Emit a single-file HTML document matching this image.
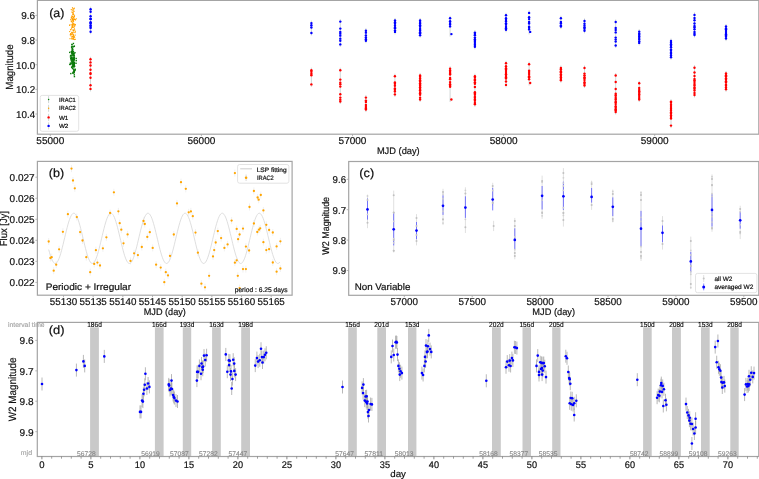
<!DOCTYPE html>
<html><head><meta charset="utf-8"><style>
html,body{margin:0;padding:0;background:#fff;width:759px;height:479px;overflow:hidden}
svg{display:block;will-change:transform}
text{font-family:"Liberation Sans",sans-serif;text-rendering:geometricPrecision}
</style></head><body>
<svg width="759" height="479" viewBox="0 0 759 479">
<rect width="759" height="479" fill="#fff"/>
<rect x="73.45" y="10.86" width="1.1" height="1.1" fill="#ffa000"/>
<rect x="73.88" y="7.67" width="1.1" height="1.1" fill="#ffa000"/>
<rect x="72.05" y="13.56" width="1.1" height="1.1" fill="#ffa000"/>
<rect x="72.69" y="13.19" width="1.1" height="1.1" fill="#ffa000"/>
<rect x="71.9" y="7.23" width="1.1" height="1.1" fill="#ffa000"/>
<rect x="72.55" y="7.9" width="1.1" height="1.1" fill="#ffa000"/>
<rect x="72.66" y="12.14" width="1.1" height="1.1" fill="#ffa000"/>
<rect x="71.76" y="9.59" width="1.1" height="1.1" fill="#ffa000"/>
<rect x="73.96" y="14.72" width="1.1" height="1.1" fill="#ffa000"/>
<rect x="71.8" y="11.79" width="1.1" height="1.1" fill="#ffa000"/>
<rect x="74.81" y="19.15" width="1.1" height="1.1" fill="#ffa000"/>
<rect x="73.09" y="10.43" width="1.1" height="1.1" fill="#ffa000"/>
<rect x="73.17" y="8.58" width="1.1" height="1.1" fill="#ffa000"/>
<rect x="73.1" y="17.11" width="1.1" height="1.1" fill="#ffa000"/>
<rect x="70.73" y="9.05" width="1.1" height="1.1" fill="#ffa000"/>
<rect x="71.44" y="11.48" width="1.1" height="1.1" fill="#ffa000"/>
<rect x="72.77" y="13.71" width="1.1" height="1.1" fill="#ffa000"/>
<rect x="72.53" y="9.37" width="1.1" height="1.1" fill="#ffa000"/>
<rect x="71.34" y="15.39" width="1.1" height="1.1" fill="#ffa000"/>
<rect x="72.85" y="14.19" width="1.1" height="1.1" fill="#ffa000"/>
<rect x="71.64" y="26.19" width="1.1" height="1.1" fill="#ffa000"/>
<rect x="74.55" y="32.02" width="1.1" height="1.1" fill="#ffa000"/>
<rect x="70.93" y="21.24" width="1.1" height="1.1" fill="#ffa000"/>
<rect x="71.63" y="36.19" width="1.1" height="1.1" fill="#ffa000"/>
<rect x="71.49" y="32.74" width="1.1" height="1.1" fill="#ffa000"/>
<rect x="75.75" y="18.25" width="1.1" height="1.1" fill="#ffa000"/>
<rect x="72.38" y="25.36" width="1.1" height="1.1" fill="#ffa000"/>
<rect x="71.6" y="27.04" width="1.1" height="1.1" fill="#ffa000"/>
<rect x="71.26" y="16.38" width="1.1" height="1.1" fill="#ffa000"/>
<rect x="70.42" y="29.03" width="1.1" height="1.1" fill="#ffa000"/>
<rect x="71.57" y="36.2" width="1.1" height="1.1" fill="#ffa000"/>
<rect x="74.2" y="29.54" width="1.1" height="1.1" fill="#ffa000"/>
<rect x="69.95" y="29.19" width="1.1" height="1.1" fill="#ffa000"/>
<rect x="73.03" y="37.84" width="1.1" height="1.1" fill="#ffa000"/>
<rect x="72.11" y="26.69" width="1.1" height="1.1" fill="#ffa000"/>
<rect x="71.96" y="32.08" width="1.1" height="1.1" fill="#ffa000"/>
<rect x="74.76" y="30.79" width="1.1" height="1.1" fill="#ffa000"/>
<rect x="72.25" y="22.19" width="1.1" height="1.1" fill="#ffa000"/>
<rect x="72.21" y="24.59" width="1.1" height="1.1" fill="#ffa000"/>
<rect x="72.11" y="26.39" width="1.1" height="1.1" fill="#ffa000"/>
<rect x="72.69" y="19.43" width="1.1" height="1.1" fill="#ffa000"/>
<rect x="72.65" y="33.66" width="1.1" height="1.1" fill="#ffa000"/>
<rect x="72.37" y="18.52" width="1.1" height="1.1" fill="#ffa000"/>
<rect x="73.64" y="36.1" width="1.1" height="1.1" fill="#ffa000"/>
<rect x="70.79" y="17.36" width="1.1" height="1.1" fill="#ffa000"/>
<rect x="72.87" y="36.39" width="1.1" height="1.1" fill="#ffa000"/>
<rect x="73.04" y="34.87" width="1.1" height="1.1" fill="#ffa000"/>
<rect x="71.56" y="25.29" width="1.1" height="1.1" fill="#ffa000"/>
<rect x="74.79" y="23.95" width="1.1" height="1.1" fill="#ffa000"/>
<rect x="70.18" y="19.03" width="1.1" height="1.1" fill="#ffa000"/>
<rect x="72.46" y="19.63" width="1.1" height="1.1" fill="#ffa000"/>
<rect x="73.29" y="26.94" width="1.1" height="1.1" fill="#ffa000"/>
<rect x="72.34" y="29.41" width="1.1" height="1.1" fill="#ffa000"/>
<rect x="72.47" y="25.38" width="1.1" height="1.1" fill="#ffa000"/>
<rect x="69.41" y="24.2" width="1.1" height="1.1" fill="#ffa000"/>
<rect x="71.05" y="31.81" width="1.1" height="1.1" fill="#ffa000"/>
<rect x="70.91" y="27.67" width="1.1" height="1.1" fill="#ffa000"/>
<rect x="71.04" y="16.73" width="1.1" height="1.1" fill="#ffa000"/>
<rect x="72.85" y="36.77" width="1.1" height="1.1" fill="#ffa000"/>
<rect x="69.75" y="34.36" width="1.1" height="1.1" fill="#ffa000"/>
<rect x="71.86" y="24.75" width="1.1" height="1.1" fill="#ffa000"/>
<rect x="72.71" y="30.48" width="1.1" height="1.1" fill="#ffa000"/>
<rect x="73.16" y="16.93" width="1.1" height="1.1" fill="#ffa000"/>
<rect x="72.72" y="19.3" width="1.1" height="1.1" fill="#ffa000"/>
<rect x="72.38" y="23.51" width="1.1" height="1.1" fill="#ffa000"/>
<rect x="72.36" y="19.03" width="1.1" height="1.1" fill="#ffa000"/>
<rect x="72.16" y="17.85" width="1.1" height="1.1" fill="#ffa000"/>
<rect x="72.57" y="36.17" width="1.1" height="1.1" fill="#ffa000"/>
<rect x="72.94" y="30" width="1.1" height="1.1" fill="#ffa000"/>
<rect x="73.15" y="23.68" width="1.1" height="1.1" fill="#ffa000"/>
<rect x="74.16" y="24.08" width="1.1" height="1.1" fill="#ffa000"/>
<rect x="74.11" y="38.99" width="1.1" height="1.1" fill="#ffa000"/>
<rect x="71.8" y="26.49" width="1.1" height="1.1" fill="#ffa000"/>
<rect x="72.41" y="17.87" width="1.1" height="1.1" fill="#ffa000"/>
<rect x="72.12" y="23.57" width="1.1" height="1.1" fill="#ffa000"/>
<rect x="74.78" y="19.28" width="1.1" height="1.1" fill="#ffa000"/>
<rect x="73.87" y="16" width="1.1" height="1.1" fill="#ffa000"/>
<rect x="71.87" y="18.92" width="1.1" height="1.1" fill="#ffa000"/>
<rect x="73.92" y="28.32" width="1.1" height="1.1" fill="#ffa000"/>
<rect x="72.62" y="38.64" width="1.1" height="1.1" fill="#ffa000"/>
<rect x="72.01" y="35.91" width="1.1" height="1.1" fill="#ffa000"/>
<rect x="71.4" y="24.14" width="1.1" height="1.1" fill="#ffa000"/>
<rect x="72.57" y="19.41" width="1.1" height="1.1" fill="#ffa000"/>
<rect x="70.76" y="33.91" width="1.1" height="1.1" fill="#ffa000"/>
<rect x="72.75" y="23.26" width="1.1" height="1.1" fill="#ffa000"/>
<rect x="74.69" y="38.79" width="1.1" height="1.1" fill="#ffa000"/>
<rect x="73.18" y="35.66" width="1.1" height="1.1" fill="#ffa000"/>
<rect x="70.1" y="32.98" width="1.1" height="1.1" fill="#ffa000"/>
<rect x="71.14" y="20.82" width="1.1" height="1.1" fill="#ffa000"/>
<rect x="72.22" y="16.14" width="1.1" height="1.1" fill="#ffa000"/>
<rect x="72.16" y="16.11" width="1.1" height="1.1" fill="#ffa000"/>
<rect x="73.34" y="31.86" width="1.1" height="1.1" fill="#ffa000"/>
<rect x="69.46" y="38.12" width="1.1" height="1.1" fill="#ffa000"/>
<rect x="73.35" y="38.87" width="1.1" height="1.1" fill="#ffa000"/>
<rect x="71.74" y="38.08" width="1.1" height="1.1" fill="#ffa000"/>
<rect x="73.04" y="20.83" width="1.1" height="1.1" fill="#ffa000"/>
<rect x="72.86" y="20.11" width="1.1" height="1.1" fill="#ffa000"/>
<rect x="74.09" y="36.79" width="1.1" height="1.1" fill="#ffa000"/>
<rect x="70.47" y="35.37" width="1.1" height="1.1" fill="#ffa000"/>
<rect x="72.59" y="34.4" width="1.1" height="1.1" fill="#ffa000"/>
<rect x="70.83" y="17.46" width="1.1" height="1.1" fill="#ffa000"/>
<rect x="69.94" y="33.99" width="1.1" height="1.1" fill="#ffa000"/>
<rect x="71.54" y="33.23" width="1.1" height="1.1" fill="#ffa000"/>
<rect x="72.46" y="34.15" width="1.1" height="1.1" fill="#ffa000"/>
<rect x="73.44" y="23.33" width="1.1" height="1.1" fill="#ffa000"/>
<rect x="69.05" y="24.83" width="1.1" height="1.1" fill="#ffa000"/>
<rect x="74.32" y="24.96" width="1.1" height="1.1" fill="#ffa000"/>
<rect x="71.66" y="19.48" width="1.1" height="1.1" fill="#ffa000"/>
<rect x="73.99" y="18.46" width="1.1" height="1.1" fill="#ffa000"/>
<rect x="74.64" y="34.56" width="1.1" height="1.1" fill="#ffa000"/>
<rect x="74.03" y="18.91" width="1.1" height="1.1" fill="#ffa000"/>
<rect x="69.12" y="31.03" width="1.1" height="1.1" fill="#ffa000"/>
<rect x="71.69" y="23.75" width="1.1" height="1.1" fill="#ffa000"/>
<rect x="72.14" y="15.79" width="1.1" height="1.1" fill="#ffa000"/>
<rect x="71.41" y="38.46" width="1.1" height="1.1" fill="#ffa000"/>
<rect x="71.07" y="37.58" width="1.1" height="1.1" fill="#ffa000"/>
<rect x="74.03" y="25.73" width="1.1" height="1.1" fill="#ffa000"/>
<rect x="70.6" y="20.45" width="1.1" height="1.1" fill="#ffa000"/>
<rect x="72.09" y="21.42" width="1.1" height="1.1" fill="#ffa000"/>
<rect x="73.28" y="29.35" width="1.1" height="1.1" fill="#ffa000"/>
<rect x="73.6" y="58.87" width="1.4" height="1.4" fill="#0b7a0b"/>
<rect x="74.31" y="69.74" width="1.4" height="1.4" fill="#0b7a0b"/>
<rect x="73.4" y="54.6" width="1.4" height="1.4" fill="#0b7a0b"/>
<rect x="70.95" y="46.17" width="1.4" height="1.4" fill="#0b7a0b"/>
<rect x="73.64" y="45.56" width="1.4" height="1.4" fill="#0b7a0b"/>
<rect x="72.28" y="50.68" width="1.4" height="1.4" fill="#0b7a0b"/>
<rect x="72.26" y="57.95" width="1.4" height="1.4" fill="#0b7a0b"/>
<rect x="72.59" y="55.16" width="1.4" height="1.4" fill="#0b7a0b"/>
<rect x="72.36" y="71.84" width="1.4" height="1.4" fill="#0b7a0b"/>
<rect x="73.55" y="63.02" width="1.4" height="1.4" fill="#0b7a0b"/>
<rect x="70.73" y="57.91" width="1.4" height="1.4" fill="#0b7a0b"/>
<rect x="73.64" y="55.41" width="1.4" height="1.4" fill="#0b7a0b"/>
<rect x="71.55" y="47.78" width="1.4" height="1.4" fill="#0b7a0b"/>
<rect x="73.29" y="66.35" width="1.4" height="1.4" fill="#0b7a0b"/>
<rect x="73.31" y="59.35" width="1.4" height="1.4" fill="#0b7a0b"/>
<rect x="70.83" y="60.46" width="1.4" height="1.4" fill="#0b7a0b"/>
<rect x="71.5" y="48.35" width="1.4" height="1.4" fill="#0b7a0b"/>
<rect x="71.59" y="65.76" width="1.4" height="1.4" fill="#0b7a0b"/>
<rect x="71.34" y="52.98" width="1.4" height="1.4" fill="#0b7a0b"/>
<rect x="72.15" y="48.58" width="1.4" height="1.4" fill="#0b7a0b"/>
<rect x="72.76" y="51.04" width="1.4" height="1.4" fill="#0b7a0b"/>
<rect x="72.71" y="42.78" width="1.4" height="1.4" fill="#0b7a0b"/>
<rect x="69.87" y="54.81" width="1.4" height="1.4" fill="#0b7a0b"/>
<rect x="71.96" y="64.37" width="1.4" height="1.4" fill="#0b7a0b"/>
<rect x="71.21" y="43.69" width="1.4" height="1.4" fill="#0b7a0b"/>
<rect x="71.73" y="61.34" width="1.4" height="1.4" fill="#0b7a0b"/>
<rect x="73.23" y="64.76" width="1.4" height="1.4" fill="#0b7a0b"/>
<rect x="72.71" y="63.96" width="1.4" height="1.4" fill="#0b7a0b"/>
<rect x="73.12" y="68.64" width="1.4" height="1.4" fill="#0b7a0b"/>
<rect x="69.7" y="62.46" width="1.4" height="1.4" fill="#0b7a0b"/>
<rect x="73.94" y="65.58" width="1.4" height="1.4" fill="#0b7a0b"/>
<rect x="71.71" y="57.22" width="1.4" height="1.4" fill="#0b7a0b"/>
<rect x="70.1" y="72.88" width="1.4" height="1.4" fill="#0b7a0b"/>
<rect x="75.33" y="62.58" width="1.4" height="1.4" fill="#0b7a0b"/>
<rect x="73.16" y="52.81" width="1.4" height="1.4" fill="#0b7a0b"/>
<rect x="72.15" y="72.5" width="1.4" height="1.4" fill="#0b7a0b"/>
<rect x="73.43" y="63.23" width="1.4" height="1.4" fill="#0b7a0b"/>
<rect x="72.19" y="52.96" width="1.4" height="1.4" fill="#0b7a0b"/>
<rect x="73.33" y="61.35" width="1.4" height="1.4" fill="#0b7a0b"/>
<rect x="72.06" y="59.06" width="1.4" height="1.4" fill="#0b7a0b"/>
<rect x="71.85" y="52.19" width="1.4" height="1.4" fill="#0b7a0b"/>
<rect x="72.43" y="65.54" width="1.4" height="1.4" fill="#0b7a0b"/>
<rect x="71.25" y="53.33" width="1.4" height="1.4" fill="#0b7a0b"/>
<rect x="73.72" y="75.9" width="1.4" height="1.4" fill="#0b7a0b"/>
<rect x="69.06" y="63.76" width="1.4" height="1.4" fill="#0b7a0b"/>
<rect x="72.9" y="63.65" width="1.4" height="1.4" fill="#0b7a0b"/>
<rect x="72.83" y="71.09" width="1.4" height="1.4" fill="#0b7a0b"/>
<rect x="72.95" y="58.83" width="1.4" height="1.4" fill="#0b7a0b"/>
<rect x="73.59" y="45.69" width="1.4" height="1.4" fill="#0b7a0b"/>
<rect x="71.42" y="61.57" width="1.4" height="1.4" fill="#0b7a0b"/>
<rect x="74.56" y="68.58" width="1.4" height="1.4" fill="#0b7a0b"/>
<rect x="71.47" y="49.48" width="1.4" height="1.4" fill="#0b7a0b"/>
<rect x="72.53" y="61.34" width="1.4" height="1.4" fill="#0b7a0b"/>
<rect x="71.08" y="56.51" width="1.4" height="1.4" fill="#0b7a0b"/>
<rect x="73.6" y="74.14" width="1.4" height="1.4" fill="#0b7a0b"/>
<rect x="70.62" y="50.94" width="1.4" height="1.4" fill="#0b7a0b"/>
<rect x="73.54" y="71.22" width="1.4" height="1.4" fill="#0b7a0b"/>
<rect x="73.31" y="72.05" width="1.4" height="1.4" fill="#0b7a0b"/>
<rect x="72.63" y="53.2" width="1.4" height="1.4" fill="#0b7a0b"/>
<rect x="71.36" y="44.18" width="1.4" height="1.4" fill="#0b7a0b"/>
<rect x="72.95" y="58.89" width="1.4" height="1.4" fill="#0b7a0b"/>
<rect x="72.14" y="54.21" width="1.4" height="1.4" fill="#0b7a0b"/>
<rect x="72.77" y="62.51" width="1.4" height="1.4" fill="#0b7a0b"/>
<rect x="72.56" y="63.77" width="1.4" height="1.4" fill="#0b7a0b"/>
<rect x="73.29" y="57.03" width="1.4" height="1.4" fill="#0b7a0b"/>
<rect x="71.27" y="59.65" width="1.4" height="1.4" fill="#0b7a0b"/>
<rect x="72.3" y="54.92" width="1.4" height="1.4" fill="#0b7a0b"/>
<rect x="72.5" y="58.53" width="1.4" height="1.4" fill="#0b7a0b"/>
<rect x="72.52" y="59.3" width="1.4" height="1.4" fill="#0b7a0b"/>
<rect x="70.73" y="58.36" width="1.4" height="1.4" fill="#0b7a0b"/>
<rect x="73.62" y="62.25" width="1.4" height="1.4" fill="#0b7a0b"/>
<rect x="72.06" y="62.34" width="1.4" height="1.4" fill="#0b7a0b"/>
<rect x="71.09" y="62.43" width="1.4" height="1.4" fill="#0b7a0b"/>
<rect x="72.37" y="46.03" width="1.4" height="1.4" fill="#0b7a0b"/>
<rect x="73.22" y="52.79" width="1.4" height="1.4" fill="#0b7a0b"/>
<rect x="69.01" y="51.71" width="1.4" height="1.4" fill="#0b7a0b"/>
<rect x="74.27" y="52.02" width="1.4" height="1.4" fill="#0b7a0b"/>
<rect x="70.59" y="56.63" width="1.4" height="1.4" fill="#0b7a0b"/>
<rect x="72.95" y="53.96" width="1.4" height="1.4" fill="#0b7a0b"/>
<rect x="72.52" y="62.78" width="1.4" height="1.4" fill="#0b7a0b"/>
<rect x="73.18" y="69.69" width="1.4" height="1.4" fill="#0b7a0b"/>
<rect x="73.05" y="59.15" width="1.4" height="1.4" fill="#0b7a0b"/>
<rect x="73.51" y="70.88" width="1.4" height="1.4" fill="#0b7a0b"/>
<rect x="70.95" y="66.47" width="1.4" height="1.4" fill="#0b7a0b"/>
<rect x="73.21" y="58.26" width="1.4" height="1.4" fill="#0b7a0b"/>
<rect x="73.64" y="57.22" width="1.4" height="1.4" fill="#0b7a0b"/>
<rect x="73.44" y="63.47" width="1.4" height="1.4" fill="#0b7a0b"/>
<rect x="75.48" y="57.81" width="1.4" height="1.4" fill="#0b7a0b"/>
<rect x="72.03" y="67.98" width="1.4" height="1.4" fill="#0b7a0b"/>
<rect x="75.54" y="59.93" width="1.4" height="1.4" fill="#0b7a0b"/>
<rect x="73.39" y="56.9" width="1.4" height="1.4" fill="#0b7a0b"/>
<rect x="72.31" y="66.16" width="1.4" height="1.4" fill="#0b7a0b"/>
<rect x="72.53" y="51.13" width="1.4" height="1.4" fill="#0b7a0b"/>
<rect x="73.71" y="61.82" width="1.4" height="1.4" fill="#0b7a0b"/>
<rect x="72.33" y="64.78" width="1.4" height="1.4" fill="#0b7a0b"/>
<rect x="72.97" y="65.28" width="1.4" height="1.4" fill="#0b7a0b"/>
<rect x="72.37" y="60.74" width="1.4" height="1.4" fill="#0b7a0b"/>
<rect x="73.16" y="57.6" width="1.4" height="1.4" fill="#0b7a0b"/>
<rect x="71.51" y="51.92" width="1.4" height="1.4" fill="#0b7a0b"/>
<rect x="70.47" y="59.33" width="1.4" height="1.4" fill="#0b7a0b"/>
<rect x="69.79" y="56.25" width="1.4" height="1.4" fill="#0b7a0b"/>
<rect x="73.01" y="54.52" width="1.4" height="1.4" fill="#0b7a0b"/>
<rect x="72.23" y="63.26" width="1.4" height="1.4" fill="#0b7a0b"/>
<rect x="70.53" y="57.68" width="1.4" height="1.4" fill="#0b7a0b"/>
<rect x="72.94" y="72.09" width="1.4" height="1.4" fill="#0b7a0b"/>
<rect x="71.2" y="66.95" width="1.4" height="1.4" fill="#0b7a0b"/>
<rect x="70.03" y="58" width="1.4" height="1.4" fill="#0b7a0b"/>
<rect x="73.47" y="64.76" width="1.4" height="1.4" fill="#0b7a0b"/>
<rect x="72.23" y="46.02" width="1.4" height="1.4" fill="#0b7a0b"/>
<rect x="70.1" y="63.71" width="1.4" height="1.4" fill="#0b7a0b"/>
<rect x="70.97" y="46.52" width="1.4" height="1.4" fill="#0b7a0b"/>
<rect x="70.55" y="54.9" width="1.4" height="1.4" fill="#0b7a0b"/>
<rect x="72.61" y="59.52" width="1.4" height="1.4" fill="#0b7a0b"/>
<rect x="73.18" y="63.74" width="1.4" height="1.4" fill="#0b7a0b"/>
<rect x="73.76" y="69.82" width="1.4" height="1.4" fill="#0b7a0b"/>
<rect x="71.67" y="50.12" width="1.4" height="1.4" fill="#0b7a0b"/>
<rect x="70.95" y="51.88" width="1.4" height="1.4" fill="#0b7a0b"/>
<rect x="72.31" y="58.73" width="1.4" height="1.4" fill="#0b7a0b"/>
<rect x="70.32" y="62.73" width="1.4" height="1.4" fill="#0b7a0b"/>
<rect x="72.27" y="50.64" width="1.4" height="1.4" fill="#0b7a0b"/>
<line x1="90.6" y1="6.7" x2="90.6" y2="34.2" stroke="#c4cccc" stroke-width="0.8"/>
<circle cx="90.6" cy="9.2" r="1.2" fill="#0000ff"/>
<circle cx="90.6" cy="11.7" r="1.2" fill="#0000ff"/>
<circle cx="90.6" cy="16.3" r="1.2" fill="#0000ff"/>
<circle cx="90.6" cy="19" r="1.2" fill="#0000ff"/>
<circle cx="90.6" cy="19" r="1.2" fill="#0000ff"/>
<circle cx="90.6" cy="22.19" r="1.2" fill="#0000ff"/>
<circle cx="90.6" cy="23.16" r="1.2" fill="#0000ff"/>
<circle cx="90.6" cy="25.18" r="1.2" fill="#0000ff"/>
<circle cx="90.6" cy="26.69" r="1.2" fill="#0000ff"/>
<circle cx="90.6" cy="28" r="1.2" fill="#0000ff"/>
<circle cx="90.6" cy="31.7" r="1.2" fill="#0000ff"/>
<line x1="311.4" y1="20.6" x2="311.4" y2="35.5" stroke="#c4cccc" stroke-width="0.8"/>
<circle cx="311.4" cy="23.1" r="1.2" fill="#0000ff"/>
<circle cx="311.4" cy="25.3" r="1.2" fill="#0000ff"/>
<circle cx="311.4" cy="27.5" r="1.2" fill="#0000ff"/>
<circle cx="311.4" cy="33" r="1.2" fill="#0000ff"/>
<line x1="340.3" y1="19.1" x2="340.3" y2="46.9" stroke="#c4cccc" stroke-width="0.8"/>
<circle cx="340.3" cy="21.6" r="1.2" fill="#0000ff"/>
<circle cx="340.3" cy="28.6" r="1.2" fill="#0000ff"/>
<circle cx="340.3" cy="31.9" r="1.2" fill="#0000ff"/>
<circle cx="340.3" cy="33.64" r="1.2" fill="#0000ff"/>
<circle cx="340.3" cy="35.63" r="1.2" fill="#0000ff"/>
<circle cx="340.3" cy="38.66" r="1.2" fill="#0000ff"/>
<circle cx="340.3" cy="40.7" r="1.2" fill="#0000ff"/>
<circle cx="340.3" cy="44.4" r="1.2" fill="#0000ff"/>
<line x1="365.9" y1="28.3" x2="365.9" y2="43.2" stroke="#c4cccc" stroke-width="0.8"/>
<circle cx="365.9" cy="30.8" r="1.2" fill="#0000ff"/>
<circle cx="365.9" cy="32.64" r="1.2" fill="#0000ff"/>
<circle cx="365.9" cy="35.4" r="1.2" fill="#0000ff"/>
<circle cx="365.9" cy="37.54" r="1.2" fill="#0000ff"/>
<circle cx="365.9" cy="39.19" r="1.2" fill="#0000ff"/>
<circle cx="365.9" cy="40.7" r="1.2" fill="#0000ff"/>
<line x1="395" y1="18" x2="395" y2="34.4" stroke="#c4cccc" stroke-width="0.8"/>
<circle cx="395" cy="20.5" r="1.2" fill="#0000ff"/>
<circle cx="395" cy="22.14" r="1.2" fill="#0000ff"/>
<circle cx="395" cy="23.73" r="1.2" fill="#0000ff"/>
<circle cx="395" cy="25.7" r="1.2" fill="#0000ff"/>
<circle cx="395" cy="27.4" r="1.2" fill="#0000ff"/>
<circle cx="395" cy="28.26" r="1.2" fill="#0000ff"/>
<circle cx="395" cy="30.53" r="1.2" fill="#0000ff"/>
<circle cx="395" cy="31.9" r="1.2" fill="#0000ff"/>
<line x1="420.1" y1="18" x2="420.1" y2="37.7" stroke="#c4cccc" stroke-width="0.8"/>
<circle cx="420.1" cy="20.5" r="1.2" fill="#0000ff"/>
<circle cx="420.1" cy="22.09" r="1.2" fill="#0000ff"/>
<circle cx="420.1" cy="23.53" r="1.2" fill="#0000ff"/>
<circle cx="420.1" cy="25.17" r="1.2" fill="#0000ff"/>
<circle cx="420.1" cy="26.75" r="1.2" fill="#0000ff"/>
<circle cx="420.1" cy="29.03" r="1.2" fill="#0000ff"/>
<circle cx="420.1" cy="30.56" r="1.2" fill="#0000ff"/>
<circle cx="420.1" cy="32.24" r="1.2" fill="#0000ff"/>
<circle cx="420.1" cy="33.35" r="1.2" fill="#0000ff"/>
<circle cx="420.1" cy="35.2" r="1.2" fill="#0000ff"/>
<line x1="450.1" y1="15.8" x2="450.1" y2="36.6" stroke="#c4cccc" stroke-width="0.8"/>
<circle cx="450.1" cy="18.3" r="1.2" fill="#0000ff"/>
<circle cx="450.1" cy="21.14" r="1.2" fill="#0000ff"/>
<circle cx="450.1" cy="23.12" r="1.2" fill="#0000ff"/>
<circle cx="450.1" cy="24.49" r="1.2" fill="#0000ff"/>
<circle cx="450.1" cy="26.4" r="1.2" fill="#0000ff"/>
<circle cx="451.4" cy="34.1" r="1.2" fill="#0000ff"/>
<line x1="474.9" y1="30.1" x2="474.9" y2="49.3" stroke="#c4cccc" stroke-width="0.8"/>
<circle cx="474.9" cy="32.6" r="1.2" fill="#0000ff"/>
<circle cx="474.9" cy="34.03" r="1.2" fill="#0000ff"/>
<circle cx="474.9" cy="35.36" r="1.2" fill="#0000ff"/>
<circle cx="474.9" cy="37.6" r="1.2" fill="#0000ff"/>
<circle cx="474.9" cy="39.25" r="1.2" fill="#0000ff"/>
<circle cx="474.9" cy="40.81" r="1.2" fill="#0000ff"/>
<circle cx="474.9" cy="41.96" r="1.2" fill="#0000ff"/>
<circle cx="474.9" cy="44.04" r="1.2" fill="#0000ff"/>
<circle cx="474.9" cy="45.11" r="1.2" fill="#0000ff"/>
<circle cx="474.9" cy="46.8" r="1.2" fill="#0000ff"/>
<line x1="506" y1="12.8" x2="506" y2="32.3" stroke="#c4cccc" stroke-width="0.8"/>
<circle cx="506" cy="15.3" r="1.2" fill="#0000ff"/>
<circle cx="506" cy="18.2" r="1.2" fill="#0000ff"/>
<circle cx="506" cy="19.96" r="1.2" fill="#0000ff"/>
<circle cx="506" cy="21.54" r="1.2" fill="#0000ff"/>
<circle cx="506" cy="23.36" r="1.2" fill="#0000ff"/>
<circle cx="506" cy="24.87" r="1.2" fill="#0000ff"/>
<circle cx="506" cy="26.89" r="1.2" fill="#0000ff"/>
<circle cx="506" cy="28.29" r="1.2" fill="#0000ff"/>
<circle cx="506" cy="29.8" r="1.2" fill="#0000ff"/>
<line x1="529.1" y1="10.4" x2="529.1" y2="34.4" stroke="#c4cccc" stroke-width="0.8"/>
<circle cx="529.1" cy="12.9" r="1.2" fill="#0000ff"/>
<circle cx="529.1" cy="17.2" r="1.2" fill="#0000ff"/>
<circle cx="529.1" cy="19.08" r="1.2" fill="#0000ff"/>
<circle cx="529.1" cy="21.96" r="1.2" fill="#0000ff"/>
<circle cx="529.1" cy="23.5" r="1.2" fill="#0000ff"/>
<circle cx="529.1" cy="26.69" r="1.2" fill="#0000ff"/>
<circle cx="529.1" cy="27.85" r="1.2" fill="#0000ff"/>
<circle cx="529.1" cy="29.4" r="1.2" fill="#0000ff"/>
<circle cx="530.2" cy="31.9" r="1.2" fill="#0000ff"/>
<line x1="560.9" y1="15.7" x2="560.9" y2="29.1" stroke="#c4cccc" stroke-width="0.8"/>
<circle cx="560.9" cy="18.2" r="1.2" fill="#0000ff"/>
<circle cx="560.9" cy="21.9" r="1.2" fill="#0000ff"/>
<circle cx="560.9" cy="23.3" r="1.2" fill="#0000ff"/>
<circle cx="560.9" cy="25.41" r="1.2" fill="#0000ff"/>
<circle cx="560.9" cy="26.6" r="1.2" fill="#0000ff"/>
<line x1="584.5" y1="18.5" x2="584.5" y2="33.3" stroke="#c4cccc" stroke-width="0.8"/>
<circle cx="584.5" cy="21" r="1.2" fill="#0000ff"/>
<circle cx="584.5" cy="23.8" r="1.2" fill="#0000ff"/>
<circle cx="584.5" cy="25.67" r="1.2" fill="#0000ff"/>
<circle cx="584.5" cy="27.35" r="1.2" fill="#0000ff"/>
<circle cx="584.5" cy="28.78" r="1.2" fill="#0000ff"/>
<circle cx="584.5" cy="30.8" r="1.2" fill="#0000ff"/>
<line x1="615.7" y1="19.5" x2="615.7" y2="48" stroke="#c4cccc" stroke-width="0.8"/>
<circle cx="615.7" cy="22" r="1.2" fill="#0000ff"/>
<circle cx="615.7" cy="28" r="1.2" fill="#0000ff"/>
<circle cx="615.7" cy="29.97" r="1.2" fill="#0000ff"/>
<circle cx="615.7" cy="32.4" r="1.2" fill="#0000ff"/>
<circle cx="615.7" cy="37.6" r="1.2" fill="#0000ff"/>
<circle cx="615.7" cy="39.6" r="1.2" fill="#0000ff"/>
<circle cx="615.7" cy="41.6" r="1.2" fill="#0000ff"/>
<circle cx="615.7" cy="45.5" r="1.2" fill="#0000ff"/>
<line x1="639.2" y1="29.1" x2="639.2" y2="45.4" stroke="#c4cccc" stroke-width="0.8"/>
<circle cx="639.2" cy="31.6" r="1.2" fill="#0000ff"/>
<circle cx="639.2" cy="33.54" r="1.2" fill="#0000ff"/>
<circle cx="639.2" cy="34.79" r="1.2" fill="#0000ff"/>
<circle cx="639.2" cy="36.2" r="1.2" fill="#0000ff"/>
<circle cx="639.2" cy="37.93" r="1.2" fill="#0000ff"/>
<circle cx="639.2" cy="39.46" r="1.2" fill="#0000ff"/>
<circle cx="639.2" cy="41.34" r="1.2" fill="#0000ff"/>
<circle cx="639.2" cy="42.9" r="1.2" fill="#0000ff"/>
<line x1="671" y1="38.5" x2="671" y2="59.7" stroke="#c4cccc" stroke-width="0.8"/>
<circle cx="671" cy="41" r="1.2" fill="#0000ff"/>
<circle cx="671" cy="42.82" r="1.2" fill="#0000ff"/>
<circle cx="671" cy="44.17" r="1.2" fill="#0000ff"/>
<circle cx="671" cy="45.76" r="1.2" fill="#0000ff"/>
<circle cx="671" cy="47.13" r="1.2" fill="#0000ff"/>
<circle cx="671" cy="49.47" r="1.2" fill="#0000ff"/>
<circle cx="671" cy="50.72" r="1.2" fill="#0000ff"/>
<circle cx="671" cy="52.63" r="1.2" fill="#0000ff"/>
<circle cx="671" cy="53.78" r="1.2" fill="#0000ff"/>
<circle cx="671" cy="55.5" r="1.2" fill="#0000ff"/>
<circle cx="671" cy="57.2" r="1.2" fill="#0000ff"/>
<line x1="694.5" y1="12.4" x2="694.5" y2="37.5" stroke="#c4cccc" stroke-width="0.8"/>
<circle cx="694.5" cy="14.9" r="1.2" fill="#0000ff"/>
<circle cx="694.5" cy="18" r="1.2" fill="#0000ff"/>
<circle cx="694.5" cy="20.2" r="1.2" fill="#0000ff"/>
<circle cx="694.5" cy="23.5" r="1.2" fill="#0000ff"/>
<circle cx="694.5" cy="26" r="1.2" fill="#0000ff"/>
<circle cx="694.5" cy="27.13" r="1.2" fill="#0000ff"/>
<circle cx="694.5" cy="29.32" r="1.2" fill="#0000ff"/>
<circle cx="694.5" cy="31.91" r="1.2" fill="#0000ff"/>
<circle cx="694.5" cy="33.76" r="1.2" fill="#0000ff"/>
<circle cx="694.5" cy="35" r="1.2" fill="#0000ff"/>
<line x1="726" y1="24" x2="726" y2="41.1" stroke="#c4cccc" stroke-width="0.8"/>
<circle cx="726" cy="26.5" r="1.2" fill="#0000ff"/>
<circle cx="726" cy="28.39" r="1.2" fill="#0000ff"/>
<circle cx="726" cy="29.21" r="1.2" fill="#0000ff"/>
<circle cx="726" cy="31.06" r="1.2" fill="#0000ff"/>
<circle cx="726" cy="32.9" r="1.2" fill="#0000ff"/>
<circle cx="726" cy="34.18" r="1.2" fill="#0000ff"/>
<circle cx="726" cy="35.54" r="1.2" fill="#0000ff"/>
<circle cx="726" cy="36.72" r="1.2" fill="#0000ff"/>
<circle cx="726" cy="38.6" r="1.2" fill="#0000ff"/>
<line x1="90.5" y1="56.8" x2="90.5" y2="91.4" stroke="#c4cccc" stroke-width="0.8"/>
<circle cx="90.5" cy="59.3" r="1.2" fill="#ff0000"/>
<circle cx="90.5" cy="62.4" r="1.2" fill="#ff0000"/>
<circle cx="90.5" cy="65.5" r="1.2" fill="#ff0000"/>
<circle cx="90.5" cy="69.7" r="1.2" fill="#ff0000"/>
<circle cx="90.5" cy="73.1" r="1.2" fill="#ff0000"/>
<circle cx="90.5" cy="73.9" r="1.2" fill="#ff0000"/>
<circle cx="90.5" cy="77.7" r="1.2" fill="#ff0000"/>
<circle cx="90.5" cy="85.2" r="1.2" fill="#ff0000"/>
<circle cx="90.5" cy="88.9" r="1.2" fill="#ff0000"/>
<line x1="311.4" y1="67.7" x2="311.4" y2="86.9" stroke="#c4cccc" stroke-width="0.8"/>
<circle cx="311.4" cy="70.2" r="1.2" fill="#ff0000"/>
<circle cx="311.4" cy="71.69" r="1.2" fill="#ff0000"/>
<circle cx="311.4" cy="73.72" r="1.2" fill="#ff0000"/>
<circle cx="311.4" cy="75.3" r="1.2" fill="#ff0000"/>
<circle cx="311.4" cy="84.4" r="1.2" fill="#ff0000"/>
<line x1="340.3" y1="67.7" x2="340.3" y2="104" stroke="#c4cccc" stroke-width="0.8"/>
<circle cx="340.3" cy="70.2" r="1.2" fill="#ff0000"/>
<circle cx="340.3" cy="79.6" r="1.2" fill="#ff0000"/>
<circle cx="340.3" cy="82.7" r="1.2" fill="#ff0000"/>
<circle cx="340.3" cy="84.35" r="1.2" fill="#ff0000"/>
<circle cx="340.3" cy="86.6" r="1.2" fill="#ff0000"/>
<circle cx="340.3" cy="94.3" r="1.2" fill="#ff0000"/>
<circle cx="340.3" cy="97.6" r="1.2" fill="#ff0000"/>
<circle cx="340.3" cy="99.66" r="1.2" fill="#ff0000"/>
<circle cx="340.3" cy="101.5" r="1.2" fill="#ff0000"/>
<line x1="365.9" y1="95.1" x2="365.9" y2="112.1" stroke="#c4cccc" stroke-width="0.8"/>
<circle cx="365.9" cy="97.6" r="1.2" fill="#ff0000"/>
<circle cx="365.9" cy="100.62" r="1.2" fill="#ff0000"/>
<circle cx="365.9" cy="102.01" r="1.2" fill="#ff0000"/>
<circle cx="365.9" cy="104.94" r="1.2" fill="#ff0000"/>
<circle cx="365.9" cy="106.97" r="1.2" fill="#ff0000"/>
<circle cx="365.9" cy="108.41" r="1.2" fill="#ff0000"/>
<circle cx="365.9" cy="109.6" r="1.2" fill="#ff0000"/>
<line x1="394.9" y1="73.7" x2="394.9" y2="96.9" stroke="#c4cccc" stroke-width="0.8"/>
<circle cx="394.9" cy="76.2" r="1.2" fill="#ff0000"/>
<circle cx="394.9" cy="82.4" r="1.2" fill="#ff0000"/>
<circle cx="394.9" cy="83.69" r="1.2" fill="#ff0000"/>
<circle cx="394.9" cy="85.77" r="1.2" fill="#ff0000"/>
<circle cx="394.9" cy="88.4" r="1.2" fill="#ff0000"/>
<circle cx="394.9" cy="89.84" r="1.2" fill="#ff0000"/>
<circle cx="394.9" cy="91.53" r="1.2" fill="#ff0000"/>
<circle cx="394.9" cy="94.4" r="1.2" fill="#ff0000"/>
<line x1="420.1" y1="72.9" x2="420.1" y2="102" stroke="#c4cccc" stroke-width="0.8"/>
<circle cx="420.1" cy="75.4" r="1.2" fill="#ff0000"/>
<circle cx="420.1" cy="76.78" r="1.2" fill="#ff0000"/>
<circle cx="420.1" cy="78.56" r="1.2" fill="#ff0000"/>
<circle cx="420.1" cy="80.16" r="1.2" fill="#ff0000"/>
<circle cx="420.1" cy="81.43" r="1.2" fill="#ff0000"/>
<circle cx="420.1" cy="83.31" r="1.2" fill="#ff0000"/>
<circle cx="420.1" cy="84.69" r="1.2" fill="#ff0000"/>
<circle cx="420.1" cy="85.72" r="1.2" fill="#ff0000"/>
<circle cx="420.1" cy="87.29" r="1.2" fill="#ff0000"/>
<circle cx="420.1" cy="88.95" r="1.2" fill="#ff0000"/>
<circle cx="420.1" cy="90.24" r="1.2" fill="#ff0000"/>
<circle cx="420.1" cy="92.1" r="1.2" fill="#ff0000"/>
<circle cx="420.1" cy="93.19" r="1.2" fill="#ff0000"/>
<circle cx="420.1" cy="94.75" r="1.2" fill="#ff0000"/>
<circle cx="420.1" cy="97.64" r="1.2" fill="#ff0000"/>
<circle cx="420.1" cy="99.5" r="1.2" fill="#ff0000"/>
<line x1="450.1" y1="66.3" x2="450.1" y2="102" stroke="#c4cccc" stroke-width="0.8"/>
<circle cx="450.1" cy="68.8" r="1.2" fill="#ff0000"/>
<circle cx="450.1" cy="70.62" r="1.2" fill="#ff0000"/>
<circle cx="450.1" cy="71.99" r="1.2" fill="#ff0000"/>
<circle cx="450.1" cy="73.65" r="1.2" fill="#ff0000"/>
<circle cx="450.1" cy="74.55" r="1.2" fill="#ff0000"/>
<circle cx="450.1" cy="77.93" r="1.2" fill="#ff0000"/>
<circle cx="450.1" cy="79.2" r="1.2" fill="#ff0000"/>
<circle cx="450.1" cy="82.12" r="1.2" fill="#ff0000"/>
<circle cx="450.1" cy="84.16" r="1.2" fill="#ff0000"/>
<circle cx="450.1" cy="85.67" r="1.2" fill="#ff0000"/>
<circle cx="450.1" cy="86.8" r="1.2" fill="#ff0000"/>
<circle cx="451.4" cy="99.5" r="1.2" fill="#ff0000"/>
<line x1="474.9" y1="73.7" x2="474.9" y2="106.8" stroke="#c4cccc" stroke-width="0.8"/>
<circle cx="474.9" cy="76.2" r="1.2" fill="#ff0000"/>
<circle cx="474.9" cy="77.65" r="1.2" fill="#ff0000"/>
<circle cx="474.9" cy="79.58" r="1.2" fill="#ff0000"/>
<circle cx="474.9" cy="80.52" r="1.2" fill="#ff0000"/>
<circle cx="474.9" cy="82.34" r="1.2" fill="#ff0000"/>
<circle cx="474.9" cy="83.76" r="1.2" fill="#ff0000"/>
<circle cx="474.9" cy="87.06" r="1.2" fill="#ff0000"/>
<circle cx="474.9" cy="92.15" r="1.2" fill="#ff0000"/>
<circle cx="474.9" cy="93.57" r="1.2" fill="#ff0000"/>
<circle cx="474.9" cy="94.8" r="1.2" fill="#ff0000"/>
<circle cx="474.9" cy="96.86" r="1.2" fill="#ff0000"/>
<circle cx="474.9" cy="97.87" r="1.2" fill="#ff0000"/>
<circle cx="474.9" cy="99.47" r="1.2" fill="#ff0000"/>
<circle cx="474.9" cy="100.78" r="1.2" fill="#ff0000"/>
<circle cx="474.9" cy="103.07" r="1.2" fill="#ff0000"/>
<circle cx="474.9" cy="104.3" r="1.2" fill="#ff0000"/>
<line x1="506" y1="60.8" x2="506" y2="87.4" stroke="#c4cccc" stroke-width="0.8"/>
<circle cx="506" cy="63.3" r="1.2" fill="#ff0000"/>
<circle cx="506" cy="66.17" r="1.2" fill="#ff0000"/>
<circle cx="506" cy="68.29" r="1.2" fill="#ff0000"/>
<circle cx="506" cy="69.38" r="1.2" fill="#ff0000"/>
<circle cx="506" cy="70.96" r="1.2" fill="#ff0000"/>
<circle cx="506" cy="72.9" r="1.2" fill="#ff0000"/>
<circle cx="506" cy="74.34" r="1.2" fill="#ff0000"/>
<circle cx="506" cy="75.9" r="1.2" fill="#ff0000"/>
<circle cx="506" cy="77.27" r="1.2" fill="#ff0000"/>
<circle cx="506" cy="78.58" r="1.2" fill="#ff0000"/>
<circle cx="506" cy="81.57" r="1.2" fill="#ff0000"/>
<circle cx="506" cy="84.9" r="1.2" fill="#ff0000"/>
<line x1="529.1" y1="61.7" x2="529.1" y2="85.5" stroke="#c4cccc" stroke-width="0.8"/>
<circle cx="529.1" cy="64.2" r="1.2" fill="#ff0000"/>
<circle cx="529.1" cy="70.8" r="1.2" fill="#ff0000"/>
<circle cx="529.1" cy="72.11" r="1.2" fill="#ff0000"/>
<circle cx="529.1" cy="74.02" r="1.2" fill="#ff0000"/>
<circle cx="529.1" cy="76.15" r="1.2" fill="#ff0000"/>
<circle cx="529.1" cy="77.33" r="1.2" fill="#ff0000"/>
<circle cx="529.1" cy="79.2" r="1.2" fill="#ff0000"/>
<circle cx="530.2" cy="83" r="1.2" fill="#ff0000"/>
<line x1="560.9" y1="65.5" x2="560.9" y2="82.7" stroke="#c4cccc" stroke-width="0.8"/>
<circle cx="560.9" cy="68" r="1.2" fill="#ff0000"/>
<circle cx="560.9" cy="69.2" r="1.2" fill="#ff0000"/>
<circle cx="560.9" cy="71.22" r="1.2" fill="#ff0000"/>
<circle cx="560.9" cy="72.36" r="1.2" fill="#ff0000"/>
<circle cx="560.9" cy="74.2" r="1.2" fill="#ff0000"/>
<circle cx="560.9" cy="75.82" r="1.2" fill="#ff0000"/>
<circle cx="560.9" cy="77.28" r="1.2" fill="#ff0000"/>
<circle cx="560.9" cy="78.95" r="1.2" fill="#ff0000"/>
<circle cx="560.9" cy="80.2" r="1.2" fill="#ff0000"/>
<line x1="584.5" y1="65.5" x2="584.5" y2="88" stroke="#c4cccc" stroke-width="0.8"/>
<circle cx="584.5" cy="68" r="1.2" fill="#ff0000"/>
<circle cx="584.5" cy="73.6" r="1.2" fill="#ff0000"/>
<circle cx="584.5" cy="75.35" r="1.2" fill="#ff0000"/>
<circle cx="584.5" cy="77.19" r="1.2" fill="#ff0000"/>
<circle cx="584.5" cy="78.5" r="1.2" fill="#ff0000"/>
<circle cx="584.5" cy="80.12" r="1.2" fill="#ff0000"/>
<circle cx="584.5" cy="82.16" r="1.2" fill="#ff0000"/>
<circle cx="584.5" cy="83.72" r="1.2" fill="#ff0000"/>
<circle cx="584.5" cy="85.5" r="1.2" fill="#ff0000"/>
<line x1="615.7" y1="73" x2="615.7" y2="114.5" stroke="#c4cccc" stroke-width="0.8"/>
<circle cx="615.7" cy="75.5" r="1.2" fill="#ff0000"/>
<circle cx="615.7" cy="82" r="1.2" fill="#ff0000"/>
<circle cx="615.7" cy="89" r="1.2" fill="#ff0000"/>
<circle cx="615.7" cy="93.8" r="1.2" fill="#ff0000"/>
<circle cx="615.7" cy="95.32" r="1.2" fill="#ff0000"/>
<circle cx="615.7" cy="97.08" r="1.2" fill="#ff0000"/>
<circle cx="615.7" cy="98.74" r="1.2" fill="#ff0000"/>
<circle cx="615.7" cy="99.85" r="1.2" fill="#ff0000"/>
<circle cx="615.7" cy="101.66" r="1.2" fill="#ff0000"/>
<circle cx="615.7" cy="102.53" r="1.2" fill="#ff0000"/>
<circle cx="615.7" cy="104.11" r="1.2" fill="#ff0000"/>
<circle cx="615.7" cy="106.31" r="1.2" fill="#ff0000"/>
<circle cx="615.7" cy="107.79" r="1.2" fill="#ff0000"/>
<circle cx="615.7" cy="109.26" r="1.2" fill="#ff0000"/>
<circle cx="615.7" cy="110.29" r="1.2" fill="#ff0000"/>
<circle cx="615.7" cy="112" r="1.2" fill="#ff0000"/>
<line x1="639.2" y1="80.8" x2="639.2" y2="102" stroke="#c4cccc" stroke-width="0.8"/>
<circle cx="639.2" cy="83.3" r="1.2" fill="#ff0000"/>
<circle cx="639.2" cy="88" r="1.2" fill="#ff0000"/>
<circle cx="639.2" cy="90" r="1.2" fill="#ff0000"/>
<circle cx="639.2" cy="91.36" r="1.2" fill="#ff0000"/>
<circle cx="639.2" cy="92.7" r="1.2" fill="#ff0000"/>
<circle cx="639.2" cy="94.28" r="1.2" fill="#ff0000"/>
<circle cx="639.2" cy="96.02" r="1.2" fill="#ff0000"/>
<circle cx="639.2" cy="97.98" r="1.2" fill="#ff0000"/>
<circle cx="639.2" cy="99.5" r="1.2" fill="#ff0000"/>
<line x1="671" y1="99.1" x2="671" y2="128.1" stroke="#c4cccc" stroke-width="0.8"/>
<circle cx="671" cy="101.6" r="1.2" fill="#ff0000"/>
<circle cx="671" cy="102.75" r="1.2" fill="#ff0000"/>
<circle cx="671" cy="104.83" r="1.2" fill="#ff0000"/>
<circle cx="671" cy="106.09" r="1.2" fill="#ff0000"/>
<circle cx="671" cy="108.02" r="1.2" fill="#ff0000"/>
<circle cx="671" cy="108.98" r="1.2" fill="#ff0000"/>
<circle cx="671" cy="110.79" r="1.2" fill="#ff0000"/>
<circle cx="671" cy="112.53" r="1.2" fill="#ff0000"/>
<circle cx="671" cy="113.69" r="1.2" fill="#ff0000"/>
<circle cx="671" cy="115.44" r="1.2" fill="#ff0000"/>
<circle cx="671" cy="116.9" r="1.2" fill="#ff0000"/>
<circle cx="671" cy="118.6" r="1.2" fill="#ff0000"/>
<circle cx="671" cy="125.6" r="1.2" fill="#ff0000"/>
<line x1="694.5" y1="65.2" x2="694.5" y2="97.5" stroke="#c4cccc" stroke-width="0.8"/>
<circle cx="694.5" cy="67.7" r="1.2" fill="#ff0000"/>
<circle cx="694.5" cy="72.5" r="1.2" fill="#ff0000"/>
<circle cx="694.5" cy="76" r="1.2" fill="#ff0000"/>
<circle cx="694.5" cy="79" r="1.2" fill="#ff0000"/>
<circle cx="694.5" cy="80.35" r="1.2" fill="#ff0000"/>
<circle cx="694.5" cy="82" r="1.2" fill="#ff0000"/>
<circle cx="694.5" cy="84" r="1.2" fill="#ff0000"/>
<circle cx="694.5" cy="85.51" r="1.2" fill="#ff0000"/>
<circle cx="694.5" cy="87.54" r="1.2" fill="#ff0000"/>
<circle cx="694.5" cy="88.77" r="1.2" fill="#ff0000"/>
<circle cx="694.5" cy="90.5" r="1.2" fill="#ff0000"/>
<circle cx="694.5" cy="93" r="1.2" fill="#ff0000"/>
<circle cx="694.5" cy="95" r="1.2" fill="#ff0000"/>
<line x1="726" y1="71" x2="726" y2="91.8" stroke="#c4cccc" stroke-width="0.8"/>
<circle cx="726" cy="73.5" r="1.2" fill="#ff0000"/>
<circle cx="726" cy="75.26" r="1.2" fill="#ff0000"/>
<circle cx="726" cy="76.26" r="1.2" fill="#ff0000"/>
<circle cx="726" cy="78.18" r="1.2" fill="#ff0000"/>
<circle cx="726" cy="79.74" r="1.2" fill="#ff0000"/>
<circle cx="726" cy="81.37" r="1.2" fill="#ff0000"/>
<circle cx="726" cy="82.59" r="1.2" fill="#ff0000"/>
<circle cx="726" cy="84.67" r="1.2" fill="#ff0000"/>
<circle cx="726" cy="85.81" r="1.2" fill="#ff0000"/>
<circle cx="726" cy="87.62" r="1.2" fill="#ff0000"/>
<circle cx="726" cy="89.3" r="1.2" fill="#ff0000"/>
<rect x="37.4" y="0.4" width="721.4" height="133.8" fill="none" stroke="#a4a4a4" stroke-width="1.2"/>
<line x1="50.3" y1="134.2" x2="50.3" y2="136.2" stroke="#a4a4a4" stroke-width="0.8"/>
<text x="50.3" y="143.9" font-size="10" text-anchor="middle" fill="#111" stroke="#111" stroke-width="0.2" textLength="27.9" lengthAdjust="spacingAndGlyphs">55000</text>
<line x1="201.4" y1="134.2" x2="201.4" y2="136.2" stroke="#a4a4a4" stroke-width="0.8"/>
<text x="201.4" y="143.9" font-size="10" text-anchor="middle" fill="#111" stroke="#111" stroke-width="0.2" textLength="27.9" lengthAdjust="spacingAndGlyphs">56000</text>
<line x1="352.5" y1="134.2" x2="352.5" y2="136.2" stroke="#a4a4a4" stroke-width="0.8"/>
<text x="352.5" y="143.9" font-size="10" text-anchor="middle" fill="#111" stroke="#111" stroke-width="0.2" textLength="27.9" lengthAdjust="spacingAndGlyphs">57000</text>
<line x1="503.6" y1="134.2" x2="503.6" y2="136.2" stroke="#a4a4a4" stroke-width="0.8"/>
<text x="503.6" y="143.9" font-size="10" text-anchor="middle" fill="#111" stroke="#111" stroke-width="0.2" textLength="27.9" lengthAdjust="spacingAndGlyphs">58000</text>
<line x1="654.7" y1="134.2" x2="654.7" y2="136.2" stroke="#a4a4a4" stroke-width="0.8"/>
<text x="654.7" y="143.9" font-size="10" text-anchor="middle" fill="#111" stroke="#111" stroke-width="0.2" textLength="27.9" lengthAdjust="spacingAndGlyphs">59000</text>
<line x1="35.4" y1="15.4" x2="37.4" y2="15.4" stroke="#a4a4a4" stroke-width="0.8"/>
<text x="35.1" y="19.4" font-size="10" text-anchor="end" fill="#111" stroke="#111" stroke-width="0.2" textLength="13.8" lengthAdjust="spacingAndGlyphs">9.6</text>
<line x1="35.4" y1="40.05" x2="37.4" y2="40.05" stroke="#a4a4a4" stroke-width="0.8"/>
<text x="35.1" y="44.05" font-size="10" text-anchor="end" fill="#111" stroke="#111" stroke-width="0.2" textLength="13.8" lengthAdjust="spacingAndGlyphs">9.8</text>
<line x1="35.4" y1="64.7" x2="37.4" y2="64.7" stroke="#a4a4a4" stroke-width="0.8"/>
<text x="35.1" y="68.7" font-size="10" text-anchor="end" fill="#111" stroke="#111" stroke-width="0.2" textLength="19.1" lengthAdjust="spacingAndGlyphs">10.0</text>
<line x1="35.4" y1="89.35" x2="37.4" y2="89.35" stroke="#a4a4a4" stroke-width="0.8"/>
<text x="35.1" y="93.35" font-size="10" text-anchor="end" fill="#111" stroke="#111" stroke-width="0.2" textLength="19.1" lengthAdjust="spacingAndGlyphs">10.2</text>
<line x1="35.4" y1="114" x2="37.4" y2="114" stroke="#a4a4a4" stroke-width="0.8"/>
<text x="35.1" y="118" font-size="10" text-anchor="end" fill="#111" stroke="#111" stroke-width="0.2" textLength="19.1" lengthAdjust="spacingAndGlyphs">10.4</text>
<text transform="translate(12.8,67) rotate(-90)" font-size="10.3" text-anchor="middle" fill="#111" stroke="#111" stroke-width="0.2" textLength="45.3" lengthAdjust="spacingAndGlyphs">Magnitude</text>
<text x="398.3" y="153.5" font-size="9.5" text-anchor="middle" fill="#111" stroke="#111" stroke-width="0.2" textLength="42.8" lengthAdjust="spacingAndGlyphs">MJD (day)</text>
<text x="49.2" y="16.6" font-size="12" fill="#111" stroke="#111" stroke-width="0.2" textLength="15.2" lengthAdjust="spacingAndGlyphs">(a)</text>
<rect x="40.2" y="95.4" width="38.5" height="35.9" fill="#fff" stroke="#dcdcdc" stroke-width="0.8" rx="2"/>
<line x1="48.6" y1="96.1" x2="48.6" y2="103.1" stroke="#bcc4c4" stroke-width="0.7"/>
<circle cx="48.6" cy="99.6" r="0.75" fill="#0a7d0a"/>
<text x="58.9" y="101.7" font-size="6" fill="#111" stroke="#111" stroke-width="0.2" textLength="16.9" lengthAdjust="spacingAndGlyphs">IRAC1</text>
<line x1="48.6" y1="104.8" x2="48.6" y2="111.8" stroke="#bcc4c4" stroke-width="0.7"/>
<circle cx="48.6" cy="108.3" r="0.75" fill="#ffa500"/>
<text x="58.9" y="110.4" font-size="6" fill="#111" stroke="#111" stroke-width="0.2" textLength="16.9" lengthAdjust="spacingAndGlyphs">IRAC2</text>
<line x1="48.6" y1="113.9" x2="48.6" y2="120.9" stroke="#bcc4c4" stroke-width="0.7"/>
<circle cx="48.6" cy="117.4" r="1.2" fill="#ff0000"/>
<text x="58.9" y="119.5" font-size="6" fill="#111" stroke="#111" stroke-width="0.2" textLength="9.5" lengthAdjust="spacingAndGlyphs">W1</text>
<line x1="48.6" y1="122.4" x2="48.6" y2="129.4" stroke="#bcc4c4" stroke-width="0.7"/>
<circle cx="48.6" cy="125.9" r="1.2" fill="#0000ff"/>
<text x="58.9" y="128" font-size="6" fill="#111" stroke="#111" stroke-width="0.2" textLength="9.5" lengthAdjust="spacingAndGlyphs">W2</text>
<polyline points="48.7,249.55 49.5,252.49 50.3,255.17 51.1,257.54 51.9,259.56 52.7,261.19 53.5,262.4 54.3,263.18 55.1,263.49 55.9,263.35 56.7,262.75 57.5,261.7 58.3,260.22 59.1,258.34 59.9,256.1 60.7,253.53 61.5,250.68 62.3,247.6 63.1,244.36 63.9,241.01 64.7,237.6 65.5,234.22 66.3,230.9 67.1,227.73 67.9,224.74 68.7,222.01 69.5,219.58 70.3,217.49 71.1,215.78 71.9,214.49 72.7,213.64 73.5,213.23 74.3,213.29 75.1,213.81 75.9,214.77 76.7,216.17 77.5,217.98 78.3,220.16 79.1,222.67 79.9,225.47 80.7,228.5 81.5,231.72 82.3,235.06 83.1,238.46 83.9,241.85 84.7,245.18 85.5,248.39 86.3,251.41 87.1,254.2 87.9,256.69 88.7,258.85 89.5,260.63 90.3,262 91.1,262.94 91.9,263.43 92.7,263.46 93.5,263.02 94.3,262.14 95.1,260.82 95.9,259.09 96.7,256.98 97.5,254.53 98.3,251.78 99.1,248.78 99.9,245.59 100.7,242.27 101.5,238.88 102.3,235.48 103.1,232.13 103.9,228.9 104.7,225.84 105.5,223 106.3,220.45 107.1,218.23 107.9,216.38 108.7,214.93 109.5,213.9 110.3,213.33 111.1,213.21 111.9,213.56 112.7,214.36 113.5,215.6 114.3,217.26 115.1,219.3 115.9,221.69 116.7,224.39 117.5,227.34 118.3,230.5 119.1,233.8 119.9,237.18 120.7,240.58 121.5,243.95 122.3,247.21 123.1,250.31 123.9,253.18 124.7,255.79 125.5,258.08 126.3,260.01 127.1,261.53 127.9,262.64 128.7,263.3 129.5,263.5 130.3,263.24 131.1,262.52 131.9,261.37 132.7,259.79 133.5,257.81 134.3,255.48 135.1,252.84 135.9,249.93 136.7,246.81 137.5,243.53 138.3,240.16 139.1,236.75 139.9,233.38 140.7,230.09 141.5,226.96 142.3,224.04 143.1,221.37 143.9,219.02 144.7,217.03 145.5,215.42 146.3,214.24 147.1,213.49 147.9,213.2 148.7,213.38 149.5,214.01 150.3,215.08 151.1,216.59 151.9,218.49 152.7,220.76 153.5,223.34 154.3,226.21 155.1,229.29 155.9,232.55 156.7,235.9 157.5,239.31 158.3,242.69 159.1,246 159.9,249.17 160.7,252.13 161.5,254.85 162.3,257.26 163.1,259.33 163.9,261.01 164.7,262.28 165.5,263.1 166.3,263.48 167.1,263.39 167.9,262.85 168.7,261.85 169.5,260.43 170.3,258.6 171.1,256.4 171.9,253.86 172.7,251.05 173.5,248 174.3,244.77 175.1,241.43 175.9,238.03 176.7,234.64 177.5,231.31 178.3,228.11 179.1,225.1 179.9,222.34 180.7,219.87 181.5,217.73 182.3,215.98 183.1,214.63 183.9,213.72 184.7,213.26 185.5,213.26 186.3,213.72 187.1,214.63 187.9,215.98 188.7,217.73 189.5,219.87 190.3,222.34 191.1,225.1 191.9,228.11 192.7,231.31 193.5,234.64 194.3,238.03 195.1,241.43 195.9,244.77 196.7,248 197.5,251.05 198.3,253.86 199.1,256.4 199.9,258.6 200.7,260.43 201.5,261.85 202.3,262.85 203.1,263.39 203.9,263.48 204.7,263.1 205.5,262.28 206.3,261.01 207.1,259.33 207.9,257.26 208.7,254.85 209.5,252.13 210.3,249.17 211.1,246 211.9,242.69 212.7,239.31 213.5,235.9 214.3,232.55 215.1,229.29 215.9,226.21 216.7,223.34 217.5,220.76 218.3,218.49 219.1,216.59 219.9,215.08 220.7,214.01 221.5,213.38 222.3,213.2 223.1,213.49 223.9,214.24 224.7,215.42 225.5,217.03 226.3,219.02 227.1,221.37 227.9,224.04 228.7,226.96 229.5,230.09 230.3,233.38 231.1,236.75 231.9,240.16 232.7,243.53 233.5,246.81 234.3,249.93 235.1,252.84 235.9,255.48 236.7,257.81 237.5,259.79 238.3,261.37 239.1,262.52 239.9,263.24 240.7,263.5 241.5,263.3 242.3,262.64 243.1,261.53 243.9,260.01 244.7,258.08 245.5,255.79 246.3,253.18 247.1,250.31 247.9,247.21 248.7,243.95 249.5,240.58 250.3,237.18 251.1,233.8 251.9,230.5 252.7,227.34 253.5,224.39 254.3,221.69 255.1,219.3 255.9,217.26 256.7,215.6 257.5,214.36 258.3,213.56 259.1,213.21 259.9,213.33 260.7,213.9 261.5,214.93 262.3,216.38 263.1,218.23 263.9,220.45 264.7,223 265.5,225.84 266.3,228.9 267.1,232.13 267.9,235.48 268.7,238.88 269.5,242.27 270.3,245.59 271.1,248.78 271.9,251.78 272.7,254.53 273.5,256.98 274.3,259.09 275.1,260.82 275.9,262.14 276.7,263.02 277.5,263.46 278.3,263.43 279.1,262.94 279.9,262" fill="none" stroke="#d6d6d6" stroke-width="0.8"/>
<line x1="71.5" y1="165.1" x2="71.5" y2="172.1" stroke="#e6e6e6" stroke-width="0.6"/>
<line x1="73" y1="177" x2="73" y2="184" stroke="#e6e6e6" stroke-width="0.6"/>
<line x1="74.8" y1="184.8" x2="74.8" y2="191.8" stroke="#e6e6e6" stroke-width="0.6"/>
<line x1="67.9" y1="210.7" x2="67.9" y2="217.7" stroke="#e6e6e6" stroke-width="0.6"/>
<line x1="76.8" y1="213.6" x2="76.8" y2="220.6" stroke="#e6e6e6" stroke-width="0.6"/>
<line x1="48.7" y1="238" x2="48.7" y2="245" stroke="#e6e6e6" stroke-width="0.6"/>
<line x1="50.4" y1="254.5" x2="50.4" y2="261.5" stroke="#e6e6e6" stroke-width="0.6"/>
<line x1="51.7" y1="253.7" x2="51.7" y2="260.7" stroke="#e6e6e6" stroke-width="0.6"/>
<line x1="53.7" y1="267.2" x2="53.7" y2="274.2" stroke="#e6e6e6" stroke-width="0.6"/>
<line x1="56.2" y1="261.2" x2="56.2" y2="268.2" stroke="#e6e6e6" stroke-width="0.6"/>
<line x1="59.1" y1="245.8" x2="59.1" y2="252.8" stroke="#e6e6e6" stroke-width="0.6"/>
<line x1="62.9" y1="228.3" x2="62.9" y2="235.3" stroke="#e6e6e6" stroke-width="0.6"/>
<line x1="80.1" y1="228.6" x2="80.1" y2="235.6" stroke="#e6e6e6" stroke-width="0.6"/>
<line x1="82.5" y1="237" x2="82.5" y2="244" stroke="#e6e6e6" stroke-width="0.6"/>
<line x1="86.3" y1="253.7" x2="86.3" y2="260.7" stroke="#e6e6e6" stroke-width="0.6"/>
<line x1="90.2" y1="268.7" x2="90.2" y2="275.7" stroke="#e6e6e6" stroke-width="0.6"/>
<line x1="94.2" y1="260.4" x2="94.2" y2="267.4" stroke="#e6e6e6" stroke-width="0.6"/>
<line x1="95.9" y1="246.7" x2="95.9" y2="253.7" stroke="#e6e6e6" stroke-width="0.6"/>
<line x1="113.9" y1="188.8" x2="113.9" y2="195.8" stroke="#e6e6e6" stroke-width="0.6"/>
<line x1="110.1" y1="209.5" x2="110.1" y2="216.5" stroke="#e6e6e6" stroke-width="0.6"/>
<line x1="118.4" y1="207.8" x2="118.4" y2="214.8" stroke="#e6e6e6" stroke-width="0.6"/>
<line x1="119.7" y1="219.7" x2="119.7" y2="226.7" stroke="#e6e6e6" stroke-width="0.6"/>
<line x1="121.3" y1="226.2" x2="121.3" y2="233.2" stroke="#e6e6e6" stroke-width="0.6"/>
<line x1="127.6" y1="230.9" x2="127.6" y2="237.9" stroke="#e6e6e6" stroke-width="0.6"/>
<line x1="106.4" y1="233.8" x2="106.4" y2="240.8" stroke="#e6e6e6" stroke-width="0.6"/>
<line x1="143.5" y1="217.5" x2="143.5" y2="224.5" stroke="#e6e6e6" stroke-width="0.6"/>
<line x1="144.8" y1="220.5" x2="144.8" y2="227.5" stroke="#e6e6e6" stroke-width="0.6"/>
<line x1="149.8" y1="228.7" x2="149.8" y2="235.7" stroke="#e6e6e6" stroke-width="0.6"/>
<line x1="147.3" y1="233.4" x2="147.3" y2="240.4" stroke="#e6e6e6" stroke-width="0.6"/>
<line x1="102.9" y1="244.8" x2="102.9" y2="251.8" stroke="#e6e6e6" stroke-width="0.6"/>
<line x1="97.4" y1="259.1" x2="97.4" y2="266.1" stroke="#e6e6e6" stroke-width="0.6"/>
<line x1="100" y1="262" x2="100" y2="269" stroke="#e6e6e6" stroke-width="0.6"/>
<line x1="123.5" y1="239.8" x2="123.5" y2="246.8" stroke="#e6e6e6" stroke-width="0.6"/>
<line x1="134.1" y1="249.8" x2="134.1" y2="256.8" stroke="#e6e6e6" stroke-width="0.6"/>
<line x1="137.9" y1="251.6" x2="137.9" y2="258.6" stroke="#e6e6e6" stroke-width="0.6"/>
<line x1="130.5" y1="257.4" x2="130.5" y2="264.4" stroke="#e6e6e6" stroke-width="0.6"/>
<line x1="141.8" y1="243.5" x2="141.8" y2="250.5" stroke="#e6e6e6" stroke-width="0.6"/>
<line x1="152.7" y1="244.4" x2="152.7" y2="251.4" stroke="#e6e6e6" stroke-width="0.6"/>
<line x1="181" y1="178.7" x2="181" y2="185.7" stroke="#e6e6e6" stroke-width="0.6"/>
<line x1="185.8" y1="185.3" x2="185.8" y2="192.3" stroke="#e6e6e6" stroke-width="0.6"/>
<line x1="177" y1="199.9" x2="177" y2="206.9" stroke="#e6e6e6" stroke-width="0.6"/>
<line x1="188.7" y1="208.8" x2="188.7" y2="215.8" stroke="#e6e6e6" stroke-width="0.6"/>
<line x1="190.9" y1="207.9" x2="190.9" y2="214.9" stroke="#e6e6e6" stroke-width="0.6"/>
<line x1="192.8" y1="212.7" x2="192.8" y2="219.7" stroke="#e6e6e6" stroke-width="0.6"/>
<line x1="173.8" y1="231" x2="173.8" y2="238" stroke="#e6e6e6" stroke-width="0.6"/>
<line x1="170" y1="252.4" x2="170" y2="259.4" stroke="#e6e6e6" stroke-width="0.6"/>
<line x1="156.1" y1="261.2" x2="156.1" y2="268.2" stroke="#e6e6e6" stroke-width="0.6"/>
<line x1="160.7" y1="264.1" x2="160.7" y2="271.1" stroke="#e6e6e6" stroke-width="0.6"/>
<line x1="165.8" y1="268.7" x2="165.8" y2="275.7" stroke="#e6e6e6" stroke-width="0.6"/>
<line x1="168" y1="271.9" x2="168" y2="278.9" stroke="#e6e6e6" stroke-width="0.6"/>
<line x1="164.3" y1="278.7" x2="164.3" y2="285.7" stroke="#e6e6e6" stroke-width="0.6"/>
<line x1="195.5" y1="229.1" x2="195.5" y2="236.1" stroke="#e6e6e6" stroke-width="0.6"/>
<line x1="197.9" y1="249.2" x2="197.9" y2="256.2" stroke="#e6e6e6" stroke-width="0.6"/>
<line x1="201.4" y1="280.2" x2="201.4" y2="287.2" stroke="#e6e6e6" stroke-width="0.6"/>
<line x1="205" y1="283.8" x2="205" y2="290.8" stroke="#e6e6e6" stroke-width="0.6"/>
<line x1="209.1" y1="272.3" x2="209.1" y2="279.3" stroke="#e6e6e6" stroke-width="0.6"/>
<line x1="234.9" y1="169.6" x2="234.9" y2="176.6" stroke="#e6e6e6" stroke-width="0.6"/>
<line x1="253.9" y1="187.5" x2="253.9" y2="194.5" stroke="#e6e6e6" stroke-width="0.6"/>
<line x1="257.6" y1="194" x2="257.6" y2="201" stroke="#e6e6e6" stroke-width="0.6"/>
<line x1="258.7" y1="196.2" x2="258.7" y2="203.2" stroke="#e6e6e6" stroke-width="0.6"/>
<line x1="260.8" y1="191.5" x2="260.8" y2="198.5" stroke="#e6e6e6" stroke-width="0.6"/>
<line x1="249.5" y1="203.5" x2="249.5" y2="210.5" stroke="#e6e6e6" stroke-width="0.6"/>
<line x1="263.4" y1="206.9" x2="263.4" y2="213.9" stroke="#e6e6e6" stroke-width="0.6"/>
<line x1="231.6" y1="217.1" x2="231.6" y2="224.1" stroke="#e6e6e6" stroke-width="0.6"/>
<line x1="253.9" y1="220" x2="253.9" y2="227" stroke="#e6e6e6" stroke-width="0.6"/>
<line x1="236.7" y1="225.4" x2="236.7" y2="232.4" stroke="#e6e6e6" stroke-width="0.6"/>
<line x1="243" y1="225.1" x2="243" y2="232.1" stroke="#e6e6e6" stroke-width="0.6"/>
<line x1="260.2" y1="224.8" x2="260.2" y2="231.8" stroke="#e6e6e6" stroke-width="0.6"/>
<line x1="217.8" y1="227.6" x2="217.8" y2="234.6" stroke="#e6e6e6" stroke-width="0.6"/>
<line x1="221.1" y1="234.6" x2="221.1" y2="241.6" stroke="#e6e6e6" stroke-width="0.6"/>
<line x1="215.7" y1="239" x2="215.7" y2="246" stroke="#e6e6e6" stroke-width="0.6"/>
<line x1="214.2" y1="246.6" x2="214.2" y2="253.6" stroke="#e6e6e6" stroke-width="0.6"/>
<line x1="213" y1="252.9" x2="213" y2="259.9" stroke="#e6e6e6" stroke-width="0.6"/>
<line x1="239.6" y1="231" x2="239.6" y2="238" stroke="#e6e6e6" stroke-width="0.6"/>
<line x1="238.1" y1="235.7" x2="238.1" y2="242.7" stroke="#e6e6e6" stroke-width="0.6"/>
<line x1="227.6" y1="240.9" x2="227.6" y2="247.9" stroke="#e6e6e6" stroke-width="0.6"/>
<line x1="224.4" y1="244.4" x2="224.4" y2="251.4" stroke="#e6e6e6" stroke-width="0.6"/>
<line x1="245.9" y1="243.1" x2="245.9" y2="250.1" stroke="#e6e6e6" stroke-width="0.6"/>
<line x1="249.1" y1="247" x2="249.1" y2="254" stroke="#e6e6e6" stroke-width="0.6"/>
<line x1="236.7" y1="256.8" x2="236.7" y2="263.8" stroke="#e6e6e6" stroke-width="0.6"/>
<line x1="234.9" y1="259.2" x2="234.9" y2="266.2" stroke="#e6e6e6" stroke-width="0.6"/>
<line x1="243" y1="265.6" x2="243" y2="272.6" stroke="#e6e6e6" stroke-width="0.6"/>
<line x1="245.9" y1="265.6" x2="245.9" y2="272.6" stroke="#e6e6e6" stroke-width="0.6"/>
<line x1="237.8" y1="272.3" x2="237.8" y2="279.3" stroke="#e6e6e6" stroke-width="0.6"/>
<line x1="239.6" y1="284.6" x2="239.6" y2="291.6" stroke="#e6e6e6" stroke-width="0.6"/>
<line x1="257.3" y1="228.5" x2="257.3" y2="235.5" stroke="#e6e6e6" stroke-width="0.6"/>
<line x1="259" y1="226.2" x2="259" y2="233.2" stroke="#e6e6e6" stroke-width="0.6"/>
<line x1="263.4" y1="238.7" x2="263.4" y2="245.7" stroke="#e6e6e6" stroke-width="0.6"/>
<line x1="266.3" y1="221.3" x2="266.3" y2="228.3" stroke="#e6e6e6" stroke-width="0.6"/>
<line x1="269.1" y1="226.5" x2="269.1" y2="233.5" stroke="#e6e6e6" stroke-width="0.6"/>
<line x1="272.8" y1="229" x2="272.8" y2="236" stroke="#e6e6e6" stroke-width="0.6"/>
<line x1="280.4" y1="237.8" x2="280.4" y2="244.8" stroke="#e6e6e6" stroke-width="0.6"/>
<line x1="276.6" y1="242.9" x2="276.6" y2="249.9" stroke="#e6e6e6" stroke-width="0.6"/>
<line x1="266.3" y1="246.6" x2="266.3" y2="253.6" stroke="#e6e6e6" stroke-width="0.6"/>
<line x1="269.1" y1="245.7" x2="269.1" y2="252.7" stroke="#e6e6e6" stroke-width="0.6"/>
<line x1="272.8" y1="259" x2="272.8" y2="266" stroke="#e6e6e6" stroke-width="0.6"/>
<line x1="280.4" y1="265" x2="280.4" y2="272" stroke="#e6e6e6" stroke-width="0.6"/>
<line x1="276.6" y1="268.2" x2="276.6" y2="275.2" stroke="#e6e6e6" stroke-width="0.6"/>
<circle cx="71.5" cy="168.6" r="1.15" fill="#ffa500"/>
<circle cx="73" cy="180.5" r="1.15" fill="#ffa500"/>
<circle cx="74.8" cy="188.3" r="1.15" fill="#ffa500"/>
<circle cx="67.9" cy="214.2" r="1.15" fill="#ffa500"/>
<circle cx="76.8" cy="217.1" r="1.15" fill="#ffa500"/>
<circle cx="48.7" cy="241.5" r="1.15" fill="#ffa500"/>
<circle cx="50.4" cy="258" r="1.15" fill="#ffa500"/>
<circle cx="51.7" cy="257.2" r="1.15" fill="#ffa500"/>
<circle cx="53.7" cy="270.7" r="1.15" fill="#ffa500"/>
<circle cx="56.2" cy="264.7" r="1.15" fill="#ffa500"/>
<circle cx="59.1" cy="249.3" r="1.15" fill="#ffa500"/>
<circle cx="62.9" cy="231.8" r="1.15" fill="#ffa500"/>
<circle cx="80.1" cy="232.1" r="1.15" fill="#ffa500"/>
<circle cx="82.5" cy="240.5" r="1.15" fill="#ffa500"/>
<circle cx="86.3" cy="257.2" r="1.15" fill="#ffa500"/>
<circle cx="90.2" cy="272.2" r="1.15" fill="#ffa500"/>
<circle cx="94.2" cy="263.9" r="1.15" fill="#ffa500"/>
<circle cx="95.9" cy="250.2" r="1.15" fill="#ffa500"/>
<circle cx="113.9" cy="192.3" r="1.15" fill="#ffa500"/>
<circle cx="110.1" cy="213" r="1.15" fill="#ffa500"/>
<circle cx="118.4" cy="211.3" r="1.15" fill="#ffa500"/>
<circle cx="119.7" cy="223.2" r="1.15" fill="#ffa500"/>
<circle cx="121.3" cy="229.7" r="1.15" fill="#ffa500"/>
<circle cx="127.6" cy="234.4" r="1.15" fill="#ffa500"/>
<circle cx="106.4" cy="237.3" r="1.15" fill="#ffa500"/>
<circle cx="143.5" cy="221" r="1.15" fill="#ffa500"/>
<circle cx="144.8" cy="224" r="1.15" fill="#ffa500"/>
<circle cx="149.8" cy="232.2" r="1.15" fill="#ffa500"/>
<circle cx="147.3" cy="236.9" r="1.15" fill="#ffa500"/>
<circle cx="102.9" cy="248.3" r="1.15" fill="#ffa500"/>
<circle cx="97.4" cy="262.6" r="1.15" fill="#ffa500"/>
<circle cx="100" cy="265.5" r="1.15" fill="#ffa500"/>
<circle cx="123.5" cy="243.3" r="1.15" fill="#ffa500"/>
<circle cx="134.1" cy="253.3" r="1.15" fill="#ffa500"/>
<circle cx="137.9" cy="255.1" r="1.15" fill="#ffa500"/>
<circle cx="130.5" cy="260.9" r="1.15" fill="#ffa500"/>
<circle cx="141.8" cy="247" r="1.15" fill="#ffa500"/>
<circle cx="152.7" cy="247.9" r="1.15" fill="#ffa500"/>
<circle cx="181" cy="182.2" r="1.15" fill="#ffa500"/>
<circle cx="185.8" cy="188.8" r="1.15" fill="#ffa500"/>
<circle cx="177" cy="203.4" r="1.15" fill="#ffa500"/>
<circle cx="188.7" cy="212.3" r="1.15" fill="#ffa500"/>
<circle cx="190.9" cy="211.4" r="1.15" fill="#ffa500"/>
<circle cx="192.8" cy="216.2" r="1.15" fill="#ffa500"/>
<circle cx="173.8" cy="234.5" r="1.15" fill="#ffa500"/>
<circle cx="170" cy="255.9" r="1.15" fill="#ffa500"/>
<circle cx="156.1" cy="264.7" r="1.15" fill="#ffa500"/>
<circle cx="160.7" cy="267.6" r="1.15" fill="#ffa500"/>
<circle cx="165.8" cy="272.2" r="1.15" fill="#ffa500"/>
<circle cx="168" cy="275.4" r="1.15" fill="#ffa500"/>
<circle cx="164.3" cy="282.2" r="1.15" fill="#ffa500"/>
<circle cx="195.5" cy="232.6" r="1.15" fill="#ffa500"/>
<circle cx="197.9" cy="252.7" r="1.15" fill="#ffa500"/>
<circle cx="201.4" cy="283.7" r="1.15" fill="#ffa500"/>
<circle cx="205" cy="287.3" r="1.15" fill="#ffa500"/>
<circle cx="209.1" cy="275.8" r="1.15" fill="#ffa500"/>
<circle cx="234.9" cy="173.1" r="1.15" fill="#ffa500"/>
<circle cx="253.9" cy="191" r="1.15" fill="#ffa500"/>
<circle cx="257.6" cy="197.5" r="1.15" fill="#ffa500"/>
<circle cx="258.7" cy="199.7" r="1.15" fill="#ffa500"/>
<circle cx="260.8" cy="195" r="1.15" fill="#ffa500"/>
<circle cx="249.5" cy="207" r="1.15" fill="#ffa500"/>
<circle cx="263.4" cy="210.4" r="1.15" fill="#ffa500"/>
<circle cx="231.6" cy="220.6" r="1.15" fill="#ffa500"/>
<circle cx="253.9" cy="223.5" r="1.15" fill="#ffa500"/>
<circle cx="236.7" cy="228.9" r="1.15" fill="#ffa500"/>
<circle cx="243" cy="228.6" r="1.15" fill="#ffa500"/>
<circle cx="260.2" cy="228.3" r="1.15" fill="#ffa500"/>
<circle cx="217.8" cy="231.1" r="1.15" fill="#ffa500"/>
<circle cx="221.1" cy="238.1" r="1.15" fill="#ffa500"/>
<circle cx="215.7" cy="242.5" r="1.15" fill="#ffa500"/>
<circle cx="214.2" cy="250.1" r="1.15" fill="#ffa500"/>
<circle cx="213" cy="256.4" r="1.15" fill="#ffa500"/>
<circle cx="239.6" cy="234.5" r="1.15" fill="#ffa500"/>
<circle cx="238.1" cy="239.2" r="1.15" fill="#ffa500"/>
<circle cx="227.6" cy="244.4" r="1.15" fill="#ffa500"/>
<circle cx="224.4" cy="247.9" r="1.15" fill="#ffa500"/>
<circle cx="245.9" cy="246.6" r="1.15" fill="#ffa500"/>
<circle cx="249.1" cy="250.5" r="1.15" fill="#ffa500"/>
<circle cx="236.7" cy="260.3" r="1.15" fill="#ffa500"/>
<circle cx="234.9" cy="262.7" r="1.15" fill="#ffa500"/>
<circle cx="243" cy="269.1" r="1.15" fill="#ffa500"/>
<circle cx="245.9" cy="269.1" r="1.15" fill="#ffa500"/>
<circle cx="237.8" cy="275.8" r="1.15" fill="#ffa500"/>
<circle cx="239.6" cy="288.1" r="1.15" fill="#ffa500"/>
<circle cx="257.3" cy="232" r="1.15" fill="#ffa500"/>
<circle cx="259" cy="229.7" r="1.15" fill="#ffa500"/>
<circle cx="263.4" cy="242.2" r="1.15" fill="#ffa500"/>
<circle cx="266.3" cy="224.8" r="1.15" fill="#ffa500"/>
<circle cx="269.1" cy="230" r="1.15" fill="#ffa500"/>
<circle cx="272.8" cy="232.5" r="1.15" fill="#ffa500"/>
<circle cx="280.4" cy="241.3" r="1.15" fill="#ffa500"/>
<circle cx="276.6" cy="246.4" r="1.15" fill="#ffa500"/>
<circle cx="266.3" cy="250.1" r="1.15" fill="#ffa500"/>
<circle cx="269.1" cy="249.2" r="1.15" fill="#ffa500"/>
<circle cx="272.8" cy="262.5" r="1.15" fill="#ffa500"/>
<circle cx="280.4" cy="268.5" r="1.15" fill="#ffa500"/>
<circle cx="276.6" cy="271.7" r="1.15" fill="#ffa500"/>
<rect x="37.4" y="161.4" width="254.7" height="133.8" fill="none" stroke="#a4a4a4" stroke-width="1.2"/>
<line x1="63.5" y1="295.2" x2="63.5" y2="297.2" stroke="#a4a4a4" stroke-width="0.8"/>
<text x="63.5" y="304.9" font-size="10" text-anchor="middle" fill="#111" stroke="#111" stroke-width="0.2" textLength="27.3" lengthAdjust="spacingAndGlyphs">55130</text>
<line x1="93.17" y1="295.2" x2="93.17" y2="297.2" stroke="#a4a4a4" stroke-width="0.8"/>
<text x="93.17" y="304.9" font-size="10" text-anchor="middle" fill="#111" stroke="#111" stroke-width="0.2" textLength="27.3" lengthAdjust="spacingAndGlyphs">55135</text>
<line x1="122.84" y1="295.2" x2="122.84" y2="297.2" stroke="#a4a4a4" stroke-width="0.8"/>
<text x="122.84" y="304.9" font-size="10" text-anchor="middle" fill="#111" stroke="#111" stroke-width="0.2" textLength="27.3" lengthAdjust="spacingAndGlyphs">55140</text>
<line x1="152.51" y1="295.2" x2="152.51" y2="297.2" stroke="#a4a4a4" stroke-width="0.8"/>
<text x="152.51" y="304.9" font-size="10" text-anchor="middle" fill="#111" stroke="#111" stroke-width="0.2" textLength="27.3" lengthAdjust="spacingAndGlyphs">55145</text>
<line x1="182.18" y1="295.2" x2="182.18" y2="297.2" stroke="#a4a4a4" stroke-width="0.8"/>
<text x="182.18" y="304.9" font-size="10" text-anchor="middle" fill="#111" stroke="#111" stroke-width="0.2" textLength="27.3" lengthAdjust="spacingAndGlyphs">55150</text>
<line x1="211.85" y1="295.2" x2="211.85" y2="297.2" stroke="#a4a4a4" stroke-width="0.8"/>
<text x="211.85" y="304.9" font-size="10" text-anchor="middle" fill="#111" stroke="#111" stroke-width="0.2" textLength="27.3" lengthAdjust="spacingAndGlyphs">55155</text>
<line x1="241.52" y1="295.2" x2="241.52" y2="297.2" stroke="#a4a4a4" stroke-width="0.8"/>
<text x="241.52" y="304.9" font-size="10" text-anchor="middle" fill="#111" stroke="#111" stroke-width="0.2" textLength="27.3" lengthAdjust="spacingAndGlyphs">55160</text>
<line x1="271.19" y1="295.2" x2="271.19" y2="297.2" stroke="#a4a4a4" stroke-width="0.8"/>
<text x="271.19" y="304.9" font-size="10" text-anchor="middle" fill="#111" stroke="#111" stroke-width="0.2" textLength="27.3" lengthAdjust="spacingAndGlyphs">55165</text>
<line x1="35.4" y1="177.2" x2="37.4" y2="177.2" stroke="#a4a4a4" stroke-width="0.8"/>
<text x="34.6" y="181.1" font-size="10" text-anchor="end" fill="#111" stroke="#111" stroke-width="0.2" textLength="25" lengthAdjust="spacingAndGlyphs">0.027</text>
<line x1="35.4" y1="198.24" x2="37.4" y2="198.24" stroke="#a4a4a4" stroke-width="0.8"/>
<text x="34.6" y="202.14" font-size="10" text-anchor="end" fill="#111" stroke="#111" stroke-width="0.2" textLength="25" lengthAdjust="spacingAndGlyphs">0.026</text>
<line x1="35.4" y1="219.28" x2="37.4" y2="219.28" stroke="#a4a4a4" stroke-width="0.8"/>
<text x="34.6" y="223.18" font-size="10" text-anchor="end" fill="#111" stroke="#111" stroke-width="0.2" textLength="25" lengthAdjust="spacingAndGlyphs">0.025</text>
<line x1="35.4" y1="240.32" x2="37.4" y2="240.32" stroke="#a4a4a4" stroke-width="0.8"/>
<text x="34.6" y="244.22" font-size="10" text-anchor="end" fill="#111" stroke="#111" stroke-width="0.2" textLength="25" lengthAdjust="spacingAndGlyphs">0.024</text>
<line x1="35.4" y1="261.36" x2="37.4" y2="261.36" stroke="#a4a4a4" stroke-width="0.8"/>
<text x="34.6" y="265.26" font-size="10" text-anchor="end" fill="#111" stroke="#111" stroke-width="0.2" textLength="25" lengthAdjust="spacingAndGlyphs">0.023</text>
<line x1="35.4" y1="282.4" x2="37.4" y2="282.4" stroke="#a4a4a4" stroke-width="0.8"/>
<text x="34.6" y="286.3" font-size="10" text-anchor="end" fill="#111" stroke="#111" stroke-width="0.2" textLength="25" lengthAdjust="spacingAndGlyphs">0.022</text>
<text transform="translate(7,228.6) rotate(-90)" font-size="10.2" text-anchor="middle" fill="#111" stroke="#111" stroke-width="0.2" textLength="35.1" lengthAdjust="spacingAndGlyphs">Flux [Jy]</text>
<text x="164.8" y="314.5" font-size="9.5" text-anchor="middle" fill="#111" stroke="#111" stroke-width="0.2" textLength="42.2" lengthAdjust="spacingAndGlyphs">MJD (day)</text>
<text x="48.8" y="176.8" font-size="12" fill="#111" stroke="#111" stroke-width="0.2" textLength="15.3" lengthAdjust="spacingAndGlyphs">(b)</text>
<text x="45.7" y="289.9" font-size="9.5" fill="#111" stroke="#111" stroke-width="0.2" textLength="85.4" lengthAdjust="spacingAndGlyphs">Periodic + Irregular</text>
<text x="234.7" y="291.9" font-size="6.7" fill="#111" stroke="#111" stroke-width="0.2" textLength="53" lengthAdjust="spacingAndGlyphs">period : 6.25 days</text>
<rect x="237.6" y="164.5" width="51.3" height="18.7" fill="#fff" stroke="#dcdcdc" stroke-width="0.8" rx="2"/>
<line x1="240.2" y1="168.8" x2="252" y2="168.8" stroke="#d2d2d2" stroke-width="1.1"/>
<text x="256.7" y="171.9" font-size="6.3" fill="#111" stroke="#111" stroke-width="0.2" textLength="30" lengthAdjust="spacingAndGlyphs">LSP fitting</text>
<line x1="246.1" y1="174.5" x2="246.1" y2="181" stroke="#c8c8c8" stroke-width="0.7"/>
<circle cx="246.1" cy="177.7" r="1.3" fill="#ffa500"/>
<text x="256.9" y="180.2" font-size="6.3" fill="#111" stroke="#111" stroke-width="0.2" textLength="16.9" lengthAdjust="spacingAndGlyphs">IRAC2</text>
<line x1="367.5" y1="194.6" x2="367.5" y2="228.2" stroke="#e0e0e0" stroke-width="1.0"/>
<line x1="393.7" y1="190.6" x2="393.7" y2="252.5" stroke="#e0e0e0" stroke-width="1.0"/>
<line x1="416.5" y1="214.1" x2="416.5" y2="245.4" stroke="#e0e0e0" stroke-width="1.0"/>
<line x1="443" y1="188.8" x2="443" y2="225.1" stroke="#e0e0e0" stroke-width="1.0"/>
<line x1="465.4" y1="187.3" x2="465.4" y2="233" stroke="#e0e0e0" stroke-width="1.0"/>
<line x1="492.7" y1="182.8" x2="492.7" y2="205.7" stroke="#e0e0e0" stroke-width="1.0"/>
<line x1="514.8" y1="217.9" x2="514.8" y2="259.3" stroke="#e0e0e0" stroke-width="1.0"/>
<line x1="542.1" y1="175.6" x2="542.1" y2="218.9" stroke="#e0e0e0" stroke-width="1.0"/>
<line x1="563.4" y1="168.1" x2="563.4" y2="226.6" stroke="#e0e0e0" stroke-width="1.0"/>
<line x1="591.6" y1="180.7" x2="591.6" y2="209.9" stroke="#e0e0e0" stroke-width="1.0"/>
<line x1="612.8" y1="189.6" x2="612.8" y2="222.4" stroke="#e0e0e0" stroke-width="1.0"/>
<line x1="641" y1="191.1" x2="641" y2="261" stroke="#e0e0e0" stroke-width="1.0"/>
<line x1="662.5" y1="216.1" x2="662.5" y2="249.6" stroke="#e0e0e0" stroke-width="1.0"/>
<line x1="690.8" y1="236.6" x2="690.8" y2="289.1" stroke="#e0e0e0" stroke-width="1.0"/>
<line x1="712" y1="174.4" x2="712" y2="231.8" stroke="#e0e0e0" stroke-width="1.0"/>
<line x1="740.2" y1="205.7" x2="740.2" y2="239.1" stroke="#e0e0e0" stroke-width="1.0"/>
<line x1="367.5" y1="198.5" x2="367.5" y2="219.6" stroke="#5858ff" stroke-width="0.8"/>
<circle cx="367.5" cy="195.99" r="0.9" fill="#d0d0d0"/>
<circle cx="367.5" cy="214.43" r="0.9" fill="#d0d0d0"/>
<circle cx="367.5" cy="200" r="1.0" fill="#c0c0c0"/>
<circle cx="367.5" cy="222.7" r="1.0" fill="#c0c0c0"/>
<line x1="393.7" y1="212.6" x2="393.7" y2="245.4" stroke="#5858ff" stroke-width="0.8"/>
<circle cx="393.7" cy="212.66" r="0.9" fill="#d0d0d0"/>
<circle cx="393.7" cy="221.32" r="0.9" fill="#d0d0d0"/>
<circle cx="393.7" cy="238.57" r="0.9" fill="#d0d0d0"/>
<circle cx="393.7" cy="242.86" r="0.9" fill="#d0d0d0"/>
<circle cx="393.7" cy="250.69" r="0.9" fill="#d0d0d0"/>
<circle cx="393.7" cy="195.3" r="1.0" fill="#c0c0c0"/>
<circle cx="393.7" cy="212.6" r="1.0" fill="#c0c0c0"/>
<circle cx="393.7" cy="240" r="1.0" fill="#c0c0c0"/>
<circle cx="393.7" cy="250.8" r="1.0" fill="#c0c0c0"/>
<line x1="416.5" y1="222" x2="416.5" y2="239.2" stroke="#5858ff" stroke-width="0.8"/>
<circle cx="416.5" cy="218" r="1.0" fill="#c0c0c0"/>
<circle cx="416.5" cy="226" r="1.0" fill="#c0c0c0"/>
<circle cx="416.5" cy="235" r="1.0" fill="#c0c0c0"/>
<circle cx="416.5" cy="241" r="1.0" fill="#c0c0c0"/>
<line x1="443" y1="195.3" x2="443" y2="214.9" stroke="#5858ff" stroke-width="0.8"/>
<circle cx="443" cy="194.06" r="0.9" fill="#d0d0d0"/>
<circle cx="443" cy="198.74" r="0.9" fill="#d0d0d0"/>
<circle cx="443" cy="211.26" r="0.9" fill="#d0d0d0"/>
<circle cx="443" cy="219.07" r="0.9" fill="#d0d0d0"/>
<circle cx="443" cy="223.09" r="0.9" fill="#d0d0d0"/>
<circle cx="443" cy="192" r="1.0" fill="#c0c0c0"/>
<circle cx="443" cy="219.6" r="1.0" fill="#c0c0c0"/>
<line x1="465.4" y1="196.3" x2="465.4" y2="217.9" stroke="#5858ff" stroke-width="0.8"/>
<circle cx="465.4" cy="190.28" r="0.9" fill="#d0d0d0"/>
<circle cx="465.4" cy="219.32" r="0.9" fill="#d0d0d0"/>
<circle cx="465.4" cy="193.5" r="1.0" fill="#c0c0c0"/>
<circle cx="465.4" cy="227.3" r="1.0" fill="#c0c0c0"/>
<line x1="492.7" y1="187.9" x2="492.7" y2="210.4" stroke="#5858ff" stroke-width="0.8"/>
<circle cx="492.7" cy="190.51" r="0.9" fill="#d0d0d0"/>
<circle cx="492.7" cy="202.48" r="0.9" fill="#d0d0d0"/>
<circle cx="492.7" cy="186" r="1.0" fill="#c0c0c0"/>
<circle cx="492.7" cy="203" r="1.0" fill="#c0c0c0"/>
<line x1="514.8" y1="228.3" x2="514.8" y2="249" stroke="#5858ff" stroke-width="0.8"/>
<circle cx="514.8" cy="236.8" r="0.9" fill="#d0d0d0"/>
<circle cx="514.8" cy="249.72" r="0.9" fill="#d0d0d0"/>
<circle cx="514.8" cy="221" r="1.0" fill="#c0c0c0"/>
<circle cx="514.8" cy="226" r="1.0" fill="#c0c0c0"/>
<circle cx="514.8" cy="253" r="1.0" fill="#c0c0c0"/>
<circle cx="514.8" cy="256" r="1.0" fill="#c0c0c0"/>
<line x1="542.1" y1="186" x2="542.1" y2="209.5" stroke="#5858ff" stroke-width="0.8"/>
<circle cx="542.1" cy="182.25" r="0.9" fill="#d0d0d0"/>
<circle cx="542.1" cy="200.05" r="0.9" fill="#d0d0d0"/>
<circle cx="542.1" cy="212.03" r="0.9" fill="#d0d0d0"/>
<circle cx="542.1" cy="215.8" r="0.9" fill="#d0d0d0"/>
<circle cx="542.1" cy="181" r="1.0" fill="#c0c0c0"/>
<circle cx="542.1" cy="213" r="1.0" fill="#c0c0c0"/>
<line x1="563.4" y1="181.7" x2="563.4" y2="209.9" stroke="#5858ff" stroke-width="0.8"/>
<circle cx="563.4" cy="177.81" r="0.9" fill="#d0d0d0"/>
<circle cx="563.4" cy="183.03" r="0.9" fill="#d0d0d0"/>
<circle cx="563.4" cy="185.91" r="0.9" fill="#d0d0d0"/>
<circle cx="563.4" cy="190.29" r="0.9" fill="#d0d0d0"/>
<circle cx="563.4" cy="207.75" r="0.9" fill="#d0d0d0"/>
<circle cx="563.4" cy="212.85" r="0.9" fill="#d0d0d0"/>
<circle cx="563.4" cy="215.45" r="0.9" fill="#d0d0d0"/>
<circle cx="563.4" cy="173" r="1.0" fill="#c0c0c0"/>
<circle cx="563.4" cy="213" r="1.0" fill="#c0c0c0"/>
<circle cx="563.4" cy="220" r="1.0" fill="#c0c0c0"/>
<line x1="591.6" y1="188" x2="591.6" y2="202.6" stroke="#5858ff" stroke-width="0.8"/>
<circle cx="591.6" cy="182.31" r="0.9" fill="#d0d0d0"/>
<circle cx="591.6" cy="184" r="1.0" fill="#c0c0c0"/>
<circle cx="591.6" cy="205" r="1.0" fill="#c0c0c0"/>
<line x1="612.8" y1="197.4" x2="612.8" y2="216.1" stroke="#5858ff" stroke-width="0.8"/>
<circle cx="612.8" cy="191.46" r="0.9" fill="#d0d0d0"/>
<circle cx="612.8" cy="220.98" r="0.9" fill="#d0d0d0"/>
<circle cx="612.8" cy="194" r="1.0" fill="#c0c0c0"/>
<circle cx="612.8" cy="219" r="1.0" fill="#c0c0c0"/>
<line x1="641" y1="210.9" x2="641" y2="246.4" stroke="#5858ff" stroke-width="0.8"/>
<circle cx="641" cy="192.77" r="0.9" fill="#d0d0d0"/>
<circle cx="641" cy="217.28" r="0.9" fill="#d0d0d0"/>
<circle cx="641" cy="221.4" r="0.9" fill="#d0d0d0"/>
<circle cx="641" cy="246.66" r="0.9" fill="#d0d0d0"/>
<circle cx="641" cy="257.97" r="0.9" fill="#d0d0d0"/>
<circle cx="641" cy="195" r="1.0" fill="#c0c0c0"/>
<circle cx="641" cy="200" r="1.0" fill="#c0c0c0"/>
<circle cx="641" cy="252" r="1.0" fill="#c0c0c0"/>
<circle cx="641" cy="256" r="1.0" fill="#c0c0c0"/>
<line x1="662.5" y1="225.5" x2="662.5" y2="242.2" stroke="#5858ff" stroke-width="0.8"/>
<circle cx="662.5" cy="221" r="1.0" fill="#c0c0c0"/>
<circle cx="662.5" cy="244" r="1.0" fill="#c0c0c0"/>
<line x1="690.8" y1="251.9" x2="690.8" y2="272.3" stroke="#5858ff" stroke-width="0.8"/>
<circle cx="690.8" cy="250.35" r="0.9" fill="#d0d0d0"/>
<circle cx="690.8" cy="255.02" r="0.9" fill="#d0d0d0"/>
<circle cx="690.8" cy="265.94" r="0.9" fill="#d0d0d0"/>
<circle cx="690.8" cy="271.78" r="0.9" fill="#d0d0d0"/>
<circle cx="690.8" cy="274.25" r="0.9" fill="#d0d0d0"/>
<circle cx="690.8" cy="287.55" r="0.9" fill="#d0d0d0"/>
<circle cx="690.8" cy="241" r="1.0" fill="#c0c0c0"/>
<circle cx="690.8" cy="266" r="1.0" fill="#c0c0c0"/>
<circle cx="690.8" cy="284" r="1.0" fill="#c0c0c0"/>
<line x1="712" y1="194.2" x2="712" y2="226.6" stroke="#5858ff" stroke-width="0.8"/>
<circle cx="712" cy="176.63" r="0.9" fill="#d0d0d0"/>
<circle cx="712" cy="185.43" r="0.9" fill="#d0d0d0"/>
<circle cx="712" cy="193.74" r="0.9" fill="#d0d0d0"/>
<circle cx="712" cy="196.36" r="0.9" fill="#d0d0d0"/>
<circle cx="712" cy="213.61" r="0.9" fill="#d0d0d0"/>
<circle cx="712" cy="216.65" r="0.9" fill="#d0d0d0"/>
<circle cx="712" cy="222.06" r="0.9" fill="#d0d0d0"/>
<circle cx="712" cy="228.79" r="0.9" fill="#d0d0d0"/>
<circle cx="712" cy="179" r="1.0" fill="#c0c0c0"/>
<circle cx="712" cy="185" r="1.0" fill="#c0c0c0"/>
<circle cx="712" cy="228" r="1.0" fill="#c0c0c0"/>
<line x1="740.2" y1="212" x2="740.2" y2="228.7" stroke="#5858ff" stroke-width="0.8"/>
<circle cx="740.2" cy="211.7" r="0.9" fill="#d0d0d0"/>
<circle cx="740.2" cy="224.72" r="0.9" fill="#d0d0d0"/>
<circle cx="740.2" cy="233.38" r="0.9" fill="#d0d0d0"/>
<circle cx="740.2" cy="209" r="1.0" fill="#c0c0c0"/>
<circle cx="740.2" cy="232" r="1.0" fill="#c0c0c0"/>
<line x1="493.6" y1="220.8" x2="493.6" y2="231.1" stroke="#e0e0e0" stroke-width="1.0"/>
<circle cx="493.6" cy="226" r="1.0" fill="#c0c0c0"/>
<circle cx="367.5" cy="209.4" r="1.35" fill="#0000ff"/>
<circle cx="393.7" cy="229.3" r="1.35" fill="#0000ff"/>
<circle cx="416.5" cy="230.6" r="1.35" fill="#0000ff"/>
<circle cx="443" cy="205.8" r="1.35" fill="#0000ff"/>
<circle cx="465.4" cy="207.6" r="1.35" fill="#0000ff"/>
<circle cx="492.7" cy="199.5" r="1.35" fill="#0000ff"/>
<circle cx="514.8" cy="239.9" r="1.35" fill="#0000ff"/>
<circle cx="542.1" cy="195.8" r="1.35" fill="#0000ff"/>
<circle cx="563.4" cy="196.3" r="1.35" fill="#0000ff"/>
<circle cx="591.6" cy="196.9" r="1.35" fill="#0000ff"/>
<circle cx="612.8" cy="206.8" r="1.35" fill="#0000ff"/>
<circle cx="641" cy="228.7" r="1.35" fill="#0000ff"/>
<circle cx="662.5" cy="232.8" r="1.35" fill="#0000ff"/>
<circle cx="690.8" cy="261.4" r="1.35" fill="#0000ff"/>
<circle cx="712" cy="209.9" r="1.35" fill="#0000ff"/>
<circle cx="740.2" cy="220.3" r="1.35" fill="#0000ff"/>
<rect x="348.7" y="161.5" width="410.1" height="133.8" fill="none" stroke="#a4a4a4" stroke-width="1.2"/>
<line x1="404.3" y1="295.3" x2="404.3" y2="297.3" stroke="#a4a4a4" stroke-width="0.8"/>
<text x="404.3" y="304.9" font-size="10" text-anchor="middle" fill="#111" stroke="#111" stroke-width="0.2" textLength="27.4" lengthAdjust="spacingAndGlyphs">57000</text>
<line x1="472.2" y1="295.3" x2="472.2" y2="297.3" stroke="#a4a4a4" stroke-width="0.8"/>
<text x="472.2" y="304.9" font-size="10" text-anchor="middle" fill="#111" stroke="#111" stroke-width="0.2" textLength="27.4" lengthAdjust="spacingAndGlyphs">57500</text>
<line x1="540.1" y1="295.3" x2="540.1" y2="297.3" stroke="#a4a4a4" stroke-width="0.8"/>
<text x="540.1" y="304.9" font-size="10" text-anchor="middle" fill="#111" stroke="#111" stroke-width="0.2" textLength="27.4" lengthAdjust="spacingAndGlyphs">58000</text>
<line x1="608" y1="295.3" x2="608" y2="297.3" stroke="#a4a4a4" stroke-width="0.8"/>
<text x="608" y="304.9" font-size="10" text-anchor="middle" fill="#111" stroke="#111" stroke-width="0.2" textLength="27.4" lengthAdjust="spacingAndGlyphs">58500</text>
<line x1="675.9" y1="295.3" x2="675.9" y2="297.3" stroke="#a4a4a4" stroke-width="0.8"/>
<text x="675.9" y="304.9" font-size="10" text-anchor="middle" fill="#111" stroke="#111" stroke-width="0.2" textLength="27.4" lengthAdjust="spacingAndGlyphs">59000</text>
<line x1="743.8" y1="295.3" x2="743.8" y2="297.3" stroke="#a4a4a4" stroke-width="0.8"/>
<text x="743.8" y="304.9" font-size="10" text-anchor="middle" fill="#111" stroke="#111" stroke-width="0.2" textLength="27.4" lengthAdjust="spacingAndGlyphs">59500</text>
<line x1="346.7" y1="179.3" x2="348.7" y2="179.3" stroke="#a4a4a4" stroke-width="0.8"/>
<text x="346" y="183.2" font-size="10" text-anchor="end" fill="#111" stroke="#111" stroke-width="0.2" textLength="13.4" lengthAdjust="spacingAndGlyphs">9.6</text>
<line x1="346.7" y1="209.7" x2="348.7" y2="209.7" stroke="#a4a4a4" stroke-width="0.8"/>
<text x="346" y="213.6" font-size="10" text-anchor="end" fill="#111" stroke="#111" stroke-width="0.2" textLength="13.4" lengthAdjust="spacingAndGlyphs">9.7</text>
<line x1="346.7" y1="240.1" x2="348.7" y2="240.1" stroke="#a4a4a4" stroke-width="0.8"/>
<text x="346" y="244" font-size="10" text-anchor="end" fill="#111" stroke="#111" stroke-width="0.2" textLength="13.4" lengthAdjust="spacingAndGlyphs">9.8</text>
<line x1="346.7" y1="270.5" x2="348.7" y2="270.5" stroke="#a4a4a4" stroke-width="0.8"/>
<text x="346" y="274.4" font-size="10" text-anchor="end" fill="#111" stroke="#111" stroke-width="0.2" textLength="13.4" lengthAdjust="spacingAndGlyphs">9.9</text>
<text transform="translate(329,225.8) rotate(-90)" font-size="9.7" text-anchor="middle" fill="#111" stroke="#111" stroke-width="0.2" textLength="57.8" lengthAdjust="spacingAndGlyphs">W2 Magnitude</text>
<text x="553.7" y="314.6" font-size="9.5" text-anchor="middle" fill="#111" stroke="#111" stroke-width="0.2" textLength="42.7" lengthAdjust="spacingAndGlyphs">MJD (day)</text>
<text x="359.3" y="177.2" font-size="12" fill="#111" stroke="#111" stroke-width="0.2" textLength="14.9" lengthAdjust="spacingAndGlyphs">(c)</text>
<text x="354.7" y="289.9" font-size="9.5" fill="#111" stroke="#111" stroke-width="0.2" textLength="55.7" lengthAdjust="spacingAndGlyphs">Non Variable</text>
<rect x="695.5" y="273.4" width="61.4" height="19.3" fill="#fff" stroke="#dcdcdc" stroke-width="0.8" rx="2"/>
<line x1="703.7" y1="275" x2="703.7" y2="282" stroke="#d8d8d8" stroke-width="0.8"/>
<circle cx="703.7" cy="278.5" r="1.0" fill="#c4c4c4"/>
<line x1="703.7" y1="283.5" x2="703.7" y2="290.3" stroke="#6a6aff" stroke-width="0.8"/>
<circle cx="703.7" cy="286.9" r="1.5" fill="#0000ff"/>
<text x="714.4" y="281" font-size="6.3" fill="#111" stroke="#111" stroke-width="0.2" textLength="18" lengthAdjust="spacingAndGlyphs">all W2</text>
<text x="714.4" y="289.2" font-size="6.3" fill="#111" stroke="#111" stroke-width="0.2" textLength="39" lengthAdjust="spacingAndGlyphs">averaged W2</text>
<rect x="90.1" y="327.3" width="8.8" height="129.2" fill="#c9c9c9"/>
<rect x="154.9" y="327.3" width="8.7" height="129.2" fill="#c9c9c9"/>
<rect x="182.8" y="327.3" width="8.4" height="129.2" fill="#c9c9c9"/>
<rect x="212.1" y="327.3" width="8.7" height="129.2" fill="#c9c9c9"/>
<rect x="241.2" y="327.3" width="8.8" height="129.2" fill="#c9c9c9"/>
<rect x="348.2" y="327.3" width="8.6" height="129.2" fill="#c9c9c9"/>
<rect x="377.3" y="327.3" width="8.7" height="129.2" fill="#c9c9c9"/>
<rect x="408" y="327.3" width="8.4" height="129.2" fill="#c9c9c9"/>
<rect x="492" y="327.3" width="8.8" height="129.2" fill="#c9c9c9"/>
<rect x="522.5" y="327.3" width="8.5" height="129.2" fill="#c9c9c9"/>
<rect x="552.2" y="327.3" width="8.3" height="129.2" fill="#c9c9c9"/>
<rect x="643.1" y="327.3" width="8.6" height="129.2" fill="#c9c9c9"/>
<rect x="672" y="327.3" width="8.9" height="129.2" fill="#c9c9c9"/>
<rect x="701" y="327.3" width="8.7" height="129.2" fill="#c9c9c9"/>
<rect x="730.3" y="327.3" width="8.4" height="129.2" fill="#c9c9c9"/>
<line x1="42" y1="377.5" x2="42" y2="390.5" stroke="#a0a0a0" stroke-width="0.75"/>
<line x1="76.4" y1="363.6" x2="76.4" y2="376.6" stroke="#a0a0a0" stroke-width="0.75"/>
<line x1="83.4" y1="354.9" x2="83.4" y2="367.9" stroke="#a0a0a0" stroke-width="0.75"/>
<line x1="84.7" y1="359.4" x2="84.7" y2="372.4" stroke="#a0a0a0" stroke-width="0.75"/>
<line x1="104.3" y1="349.9" x2="104.3" y2="362.9" stroke="#a0a0a0" stroke-width="0.75"/>
<line x1="140" y1="405.4" x2="140" y2="418.4" stroke="#a0a0a0" stroke-width="0.75"/>
<line x1="141" y1="405.4" x2="141" y2="418.4" stroke="#a0a0a0" stroke-width="0.75"/>
<line x1="142.1" y1="394.1" x2="142.1" y2="407.1" stroke="#a0a0a0" stroke-width="0.75"/>
<line x1="142.9" y1="395.1" x2="142.9" y2="408.1" stroke="#a0a0a0" stroke-width="0.75"/>
<line x1="143.4" y1="387.3" x2="143.4" y2="400.3" stroke="#a0a0a0" stroke-width="0.75"/>
<line x1="144.1" y1="383.3" x2="144.1" y2="396.3" stroke="#a0a0a0" stroke-width="0.75"/>
<line x1="144.8" y1="378.3" x2="144.8" y2="391.3" stroke="#a0a0a0" stroke-width="0.75"/>
<line x1="145.4" y1="367.3" x2="145.4" y2="380.3" stroke="#a0a0a0" stroke-width="0.75"/>
<line x1="146.9" y1="382" x2="146.9" y2="395" stroke="#a0a0a0" stroke-width="0.75"/>
<line x1="148.1" y1="377" x2="148.1" y2="390" stroke="#a0a0a0" stroke-width="0.75"/>
<line x1="149.4" y1="380.4" x2="149.4" y2="393.4" stroke="#a0a0a0" stroke-width="0.75"/>
<line x1="171.5" y1="374.1" x2="171.5" y2="387.1" stroke="#a0a0a0" stroke-width="0.75"/>
<line x1="168.75" y1="377.9" x2="168.75" y2="390.9" stroke="#a0a0a0" stroke-width="0.75"/>
<line x1="169.1" y1="379.1" x2="169.1" y2="392.1" stroke="#a0a0a0" stroke-width="0.75"/>
<line x1="170" y1="383.5" x2="170" y2="396.5" stroke="#a0a0a0" stroke-width="0.75"/>
<line x1="171" y1="382" x2="171" y2="395" stroke="#a0a0a0" stroke-width="0.75"/>
<line x1="171.9" y1="382.5" x2="171.9" y2="395.5" stroke="#a0a0a0" stroke-width="0.75"/>
<line x1="173.1" y1="388.5" x2="173.1" y2="401.5" stroke="#a0a0a0" stroke-width="0.75"/>
<line x1="173.75" y1="390.4" x2="173.75" y2="403.4" stroke="#a0a0a0" stroke-width="0.75"/>
<line x1="174.4" y1="391.6" x2="174.4" y2="404.6" stroke="#a0a0a0" stroke-width="0.75"/>
<line x1="176" y1="394.1" x2="176" y2="407.1" stroke="#a0a0a0" stroke-width="0.75"/>
<line x1="177.5" y1="395" x2="177.5" y2="408" stroke="#a0a0a0" stroke-width="0.75"/>
<line x1="196.9" y1="374.1" x2="196.9" y2="387.1" stroke="#a0a0a0" stroke-width="0.75"/>
<line x1="197.1" y1="365.4" x2="197.1" y2="378.4" stroke="#a0a0a0" stroke-width="0.75"/>
<line x1="198.1" y1="365.4" x2="198.1" y2="378.4" stroke="#a0a0a0" stroke-width="0.75"/>
<line x1="199.4" y1="359.4" x2="199.4" y2="372.4" stroke="#a0a0a0" stroke-width="0.75"/>
<line x1="201" y1="367.25" x2="201" y2="380.25" stroke="#a0a0a0" stroke-width="0.75"/>
<line x1="201.5" y1="357" x2="201.5" y2="370" stroke="#a0a0a0" stroke-width="0.75"/>
<line x1="202.5" y1="360.75" x2="202.5" y2="373.75" stroke="#a0a0a0" stroke-width="0.75"/>
<line x1="203.1" y1="360" x2="203.1" y2="373" stroke="#a0a0a0" stroke-width="0.75"/>
<line x1="202.75" y1="363.25" x2="202.75" y2="376.25" stroke="#a0a0a0" stroke-width="0.75"/>
<line x1="204" y1="349.1" x2="204" y2="362.1" stroke="#a0a0a0" stroke-width="0.75"/>
<line x1="205.25" y1="353.5" x2="205.25" y2="366.5" stroke="#a0a0a0" stroke-width="0.75"/>
<line x1="206.6" y1="348.75" x2="206.6" y2="361.75" stroke="#a0a0a0" stroke-width="0.75"/>
<line x1="225.8" y1="347.9" x2="225.8" y2="360.9" stroke="#a0a0a0" stroke-width="0.75"/>
<line x1="228.8" y1="353.9" x2="228.8" y2="366.9" stroke="#a0a0a0" stroke-width="0.75"/>
<line x1="229.9" y1="354.2" x2="229.9" y2="367.2" stroke="#a0a0a0" stroke-width="0.75"/>
<line x1="233.2" y1="353.2" x2="233.2" y2="366.2" stroke="#a0a0a0" stroke-width="0.75"/>
<line x1="229.1" y1="358.6" x2="229.1" y2="371.6" stroke="#a0a0a0" stroke-width="0.75"/>
<line x1="234.2" y1="357.1" x2="234.2" y2="370.1" stroke="#a0a0a0" stroke-width="0.75"/>
<line x1="227.3" y1="365.2" x2="227.3" y2="378.2" stroke="#a0a0a0" stroke-width="0.75"/>
<line x1="231" y1="364.9" x2="231" y2="377.9" stroke="#a0a0a0" stroke-width="0.75"/>
<line x1="234.3" y1="364.4" x2="234.3" y2="377.4" stroke="#a0a0a0" stroke-width="0.75"/>
<line x1="230.5" y1="368.1" x2="230.5" y2="381.1" stroke="#a0a0a0" stroke-width="0.75"/>
<line x1="235.6" y1="368.1" x2="235.6" y2="381.1" stroke="#a0a0a0" stroke-width="0.75"/>
<line x1="232.4" y1="372.5" x2="232.4" y2="385.5" stroke="#a0a0a0" stroke-width="0.75"/>
<line x1="231.7" y1="382" x2="231.7" y2="395" stroke="#a0a0a0" stroke-width="0.75"/>
<line x1="255.25" y1="359.1" x2="255.25" y2="372.1" stroke="#a0a0a0" stroke-width="0.75"/>
<line x1="256.9" y1="351.6" x2="256.9" y2="364.6" stroke="#a0a0a0" stroke-width="0.75"/>
<line x1="258.1" y1="355.1" x2="258.1" y2="368.1" stroke="#a0a0a0" stroke-width="0.75"/>
<line x1="259.75" y1="353.75" x2="259.75" y2="366.75" stroke="#a0a0a0" stroke-width="0.75"/>
<line x1="261" y1="342.25" x2="261" y2="355.25" stroke="#a0a0a0" stroke-width="0.75"/>
<line x1="261.9" y1="350.6" x2="261.9" y2="363.6" stroke="#a0a0a0" stroke-width="0.75"/>
<line x1="263.75" y1="350.6" x2="263.75" y2="363.6" stroke="#a0a0a0" stroke-width="0.75"/>
<line x1="262.5" y1="356" x2="262.5" y2="369" stroke="#a0a0a0" stroke-width="0.75"/>
<line x1="265" y1="348.25" x2="265" y2="361.25" stroke="#a0a0a0" stroke-width="0.75"/>
<line x1="266.25" y1="346.25" x2="266.25" y2="359.25" stroke="#a0a0a0" stroke-width="0.75"/>
<line x1="342.5" y1="380.5" x2="342.5" y2="393.5" stroke="#a0a0a0" stroke-width="0.75"/>
<line x1="363.4" y1="378.1" x2="363.4" y2="391.1" stroke="#a0a0a0" stroke-width="0.75"/>
<line x1="362.1" y1="381.4" x2="362.1" y2="394.4" stroke="#a0a0a0" stroke-width="0.75"/>
<line x1="363.1" y1="386.6" x2="363.1" y2="399.6" stroke="#a0a0a0" stroke-width="0.75"/>
<line x1="365.6" y1="390" x2="365.6" y2="403" stroke="#a0a0a0" stroke-width="0.75"/>
<line x1="366.6" y1="389.75" x2="366.6" y2="402.75" stroke="#a0a0a0" stroke-width="0.75"/>
<line x1="364.75" y1="394.1" x2="364.75" y2="407.1" stroke="#a0a0a0" stroke-width="0.75"/>
<line x1="366.25" y1="395.4" x2="366.25" y2="408.4" stroke="#a0a0a0" stroke-width="0.75"/>
<line x1="367.5" y1="395" x2="367.5" y2="408" stroke="#a0a0a0" stroke-width="0.75"/>
<line x1="367.1" y1="397" x2="367.1" y2="410" stroke="#a0a0a0" stroke-width="0.75"/>
<line x1="370.6" y1="397.5" x2="370.6" y2="410.5" stroke="#a0a0a0" stroke-width="0.75"/>
<line x1="371.9" y1="397.9" x2="371.9" y2="410.9" stroke="#a0a0a0" stroke-width="0.75"/>
<line x1="369" y1="403.5" x2="369" y2="416.5" stroke="#a0a0a0" stroke-width="0.75"/>
<line x1="367.9" y1="405.6" x2="367.9" y2="418.6" stroke="#a0a0a0" stroke-width="0.75"/>
<line x1="368.5" y1="409.5" x2="368.5" y2="422.5" stroke="#a0a0a0" stroke-width="0.75"/>
<line x1="392.5" y1="339.5" x2="392.5" y2="352.5" stroke="#a0a0a0" stroke-width="0.75"/>
<line x1="395.6" y1="335.75" x2="395.6" y2="348.75" stroke="#a0a0a0" stroke-width="0.75"/>
<line x1="396.25" y1="335.4" x2="396.25" y2="348.4" stroke="#a0a0a0" stroke-width="0.75"/>
<line x1="396.9" y1="336" x2="396.9" y2="349" stroke="#a0a0a0" stroke-width="0.75"/>
<line x1="391.25" y1="350.4" x2="391.25" y2="363.4" stroke="#a0a0a0" stroke-width="0.75"/>
<line x1="393.75" y1="348.5" x2="393.75" y2="361.5" stroke="#a0a0a0" stroke-width="0.75"/>
<line x1="397.5" y1="348.1" x2="397.5" y2="361.1" stroke="#a0a0a0" stroke-width="0.75"/>
<line x1="398.4" y1="359.4" x2="398.4" y2="372.4" stroke="#a0a0a0" stroke-width="0.75"/>
<line x1="399.4" y1="362.25" x2="399.4" y2="375.25" stroke="#a0a0a0" stroke-width="0.75"/>
<line x1="400.6" y1="364.75" x2="400.6" y2="377.75" stroke="#a0a0a0" stroke-width="0.75"/>
<line x1="401.9" y1="366.6" x2="401.9" y2="379.6" stroke="#a0a0a0" stroke-width="0.75"/>
<line x1="399.75" y1="368.1" x2="399.75" y2="381.1" stroke="#a0a0a0" stroke-width="0.75"/>
<line x1="428.75" y1="328.9" x2="428.75" y2="341.9" stroke="#a0a0a0" stroke-width="0.75"/>
<line x1="426" y1="339.1" x2="426" y2="352.1" stroke="#a0a0a0" stroke-width="0.75"/>
<line x1="427.9" y1="339.75" x2="427.9" y2="352.75" stroke="#a0a0a0" stroke-width="0.75"/>
<line x1="430" y1="342.6" x2="430" y2="355.6" stroke="#a0a0a0" stroke-width="0.75"/>
<line x1="426.9" y1="345.6" x2="426.9" y2="358.6" stroke="#a0a0a0" stroke-width="0.75"/>
<line x1="427.5" y1="345.1" x2="427.5" y2="358.1" stroke="#a0a0a0" stroke-width="0.75"/>
<line x1="431.25" y1="345.4" x2="431.25" y2="358.4" stroke="#a0a0a0" stroke-width="0.75"/>
<line x1="425" y1="350.4" x2="425" y2="363.4" stroke="#a0a0a0" stroke-width="0.75"/>
<line x1="425.6" y1="355" x2="425.6" y2="368" stroke="#a0a0a0" stroke-width="0.75"/>
<line x1="424.4" y1="359.4" x2="424.4" y2="372.4" stroke="#a0a0a0" stroke-width="0.75"/>
<line x1="421.9" y1="366.6" x2="421.9" y2="379.6" stroke="#a0a0a0" stroke-width="0.75"/>
<line x1="423.1" y1="368.5" x2="423.1" y2="381.5" stroke="#a0a0a0" stroke-width="0.75"/>
<line x1="486.3" y1="374.3" x2="486.3" y2="387.3" stroke="#a0a0a0" stroke-width="0.75"/>
<line x1="506" y1="360.75" x2="506" y2="373.75" stroke="#a0a0a0" stroke-width="0.75"/>
<line x1="507.25" y1="355.1" x2="507.25" y2="368.1" stroke="#a0a0a0" stroke-width="0.75"/>
<line x1="509" y1="358.75" x2="509" y2="371.75" stroke="#a0a0a0" stroke-width="0.75"/>
<line x1="510.6" y1="359.5" x2="510.6" y2="372.5" stroke="#a0a0a0" stroke-width="0.75"/>
<line x1="509.75" y1="354.1" x2="509.75" y2="367.1" stroke="#a0a0a0" stroke-width="0.75"/>
<line x1="511.9" y1="351.6" x2="511.9" y2="364.6" stroke="#a0a0a0" stroke-width="0.75"/>
<line x1="512.9" y1="353.9" x2="512.9" y2="366.9" stroke="#a0a0a0" stroke-width="0.75"/>
<line x1="514.4" y1="340.75" x2="514.4" y2="353.75" stroke="#a0a0a0" stroke-width="0.75"/>
<line x1="515.6" y1="341" x2="515.6" y2="354" stroke="#a0a0a0" stroke-width="0.75"/>
<line x1="516.9" y1="341.6" x2="516.9" y2="354.6" stroke="#a0a0a0" stroke-width="0.75"/>
<line x1="537.75" y1="349.1" x2="537.75" y2="362.1" stroke="#a0a0a0" stroke-width="0.75"/>
<line x1="536.5" y1="359.4" x2="536.5" y2="372.4" stroke="#a0a0a0" stroke-width="0.75"/>
<line x1="540.25" y1="355.75" x2="540.25" y2="368.75" stroke="#a0a0a0" stroke-width="0.75"/>
<line x1="541.5" y1="356.4" x2="541.5" y2="369.4" stroke="#a0a0a0" stroke-width="0.75"/>
<line x1="542.9" y1="356.6" x2="542.9" y2="369.6" stroke="#a0a0a0" stroke-width="0.75"/>
<line x1="543.75" y1="356.6" x2="543.75" y2="369.6" stroke="#a0a0a0" stroke-width="0.75"/>
<line x1="544.75" y1="359.75" x2="544.75" y2="372.75" stroke="#a0a0a0" stroke-width="0.75"/>
<line x1="541" y1="362.5" x2="541" y2="375.5" stroke="#a0a0a0" stroke-width="0.75"/>
<line x1="541.9" y1="361.6" x2="541.9" y2="374.6" stroke="#a0a0a0" stroke-width="0.75"/>
<line x1="542.75" y1="364.1" x2="542.75" y2="377.1" stroke="#a0a0a0" stroke-width="0.75"/>
<line x1="539" y1="365.4" x2="539" y2="378.4" stroke="#a0a0a0" stroke-width="0.75"/>
<line x1="539" y1="368.5" x2="539" y2="381.5" stroke="#a0a0a0" stroke-width="0.75"/>
<line x1="542.1" y1="368.1" x2="542.1" y2="381.1" stroke="#a0a0a0" stroke-width="0.75"/>
<line x1="546" y1="370.6" x2="546" y2="383.6" stroke="#a0a0a0" stroke-width="0.75"/>
<line x1="565.8" y1="349.7" x2="565.8" y2="362.7" stroke="#a0a0a0" stroke-width="0.75"/>
<line x1="567" y1="351.8" x2="567" y2="364.8" stroke="#a0a0a0" stroke-width="0.75"/>
<line x1="568.3" y1="365.5" x2="568.3" y2="378.5" stroke="#a0a0a0" stroke-width="0.75"/>
<line x1="569.2" y1="371.5" x2="569.2" y2="384.5" stroke="#a0a0a0" stroke-width="0.75"/>
<line x1="569.7" y1="372.7" x2="569.7" y2="385.7" stroke="#a0a0a0" stroke-width="0.75"/>
<line x1="570.3" y1="377.2" x2="570.3" y2="390.2" stroke="#a0a0a0" stroke-width="0.75"/>
<line x1="570.8" y1="391.5" x2="570.8" y2="404.5" stroke="#a0a0a0" stroke-width="0.75"/>
<line x1="572.2" y1="391.8" x2="572.2" y2="404.8" stroke="#a0a0a0" stroke-width="0.75"/>
<line x1="569.7" y1="396.8" x2="569.7" y2="409.8" stroke="#a0a0a0" stroke-width="0.75"/>
<line x1="571.3" y1="397.7" x2="571.3" y2="410.7" stroke="#a0a0a0" stroke-width="0.75"/>
<line x1="573" y1="398.5" x2="573" y2="411.5" stroke="#a0a0a0" stroke-width="0.75"/>
<line x1="574.2" y1="396.8" x2="574.2" y2="409.8" stroke="#a0a0a0" stroke-width="0.75"/>
<line x1="576.3" y1="394.3" x2="576.3" y2="407.3" stroke="#a0a0a0" stroke-width="0.75"/>
<line x1="574.2" y1="408.5" x2="574.2" y2="421.5" stroke="#a0a0a0" stroke-width="0.75"/>
<line x1="637.3" y1="373.2" x2="637.3" y2="386.2" stroke="#a0a0a0" stroke-width="0.75"/>
<line x1="661.3" y1="376.6" x2="661.3" y2="389.6" stroke="#a0a0a0" stroke-width="0.75"/>
<line x1="661" y1="378.7" x2="661" y2="391.7" stroke="#a0a0a0" stroke-width="0.75"/>
<line x1="662.7" y1="379.4" x2="662.7" y2="392.4" stroke="#a0a0a0" stroke-width="0.75"/>
<line x1="663.9" y1="382.8" x2="663.9" y2="395.8" stroke="#a0a0a0" stroke-width="0.75"/>
<line x1="659.9" y1="385.1" x2="659.9" y2="398.1" stroke="#a0a0a0" stroke-width="0.75"/>
<line x1="662" y1="385.4" x2="662" y2="398.4" stroke="#a0a0a0" stroke-width="0.75"/>
<line x1="658.2" y1="388.6" x2="658.2" y2="401.6" stroke="#a0a0a0" stroke-width="0.75"/>
<line x1="659.4" y1="389.3" x2="659.4" y2="402.3" stroke="#a0a0a0" stroke-width="0.75"/>
<line x1="657.1" y1="391.2" x2="657.1" y2="404.2" stroke="#a0a0a0" stroke-width="0.75"/>
<line x1="665.5" y1="393.8" x2="665.5" y2="406.8" stroke="#a0a0a0" stroke-width="0.75"/>
<line x1="666.4" y1="398.3" x2="666.4" y2="411.3" stroke="#a0a0a0" stroke-width="0.75"/>
<line x1="663.3" y1="399.5" x2="663.3" y2="412.5" stroke="#a0a0a0" stroke-width="0.75"/>
<line x1="686" y1="397.6" x2="686" y2="410.6" stroke="#a0a0a0" stroke-width="0.75"/>
<line x1="687.25" y1="406" x2="687.25" y2="419" stroke="#a0a0a0" stroke-width="0.75"/>
<line x1="688.5" y1="408.9" x2="688.5" y2="421.9" stroke="#a0a0a0" stroke-width="0.75"/>
<line x1="689.75" y1="411.25" x2="689.75" y2="424.25" stroke="#a0a0a0" stroke-width="0.75"/>
<line x1="689.4" y1="414.1" x2="689.4" y2="427.1" stroke="#a0a0a0" stroke-width="0.75"/>
<line x1="690.6" y1="417.25" x2="690.6" y2="430.25" stroke="#a0a0a0" stroke-width="0.75"/>
<line x1="691.9" y1="417.5" x2="691.9" y2="430.5" stroke="#a0a0a0" stroke-width="0.75"/>
<line x1="695.6" y1="412.25" x2="695.6" y2="425.25" stroke="#a0a0a0" stroke-width="0.75"/>
<line x1="695.6" y1="421" x2="695.6" y2="434" stroke="#a0a0a0" stroke-width="0.75"/>
<line x1="693.1" y1="422.5" x2="693.1" y2="435.5" stroke="#a0a0a0" stroke-width="0.75"/>
<line x1="694.4" y1="427" x2="694.4" y2="440" stroke="#a0a0a0" stroke-width="0.75"/>
<line x1="691.9" y1="437" x2="691.9" y2="450" stroke="#a0a0a0" stroke-width="0.75"/>
<line x1="717.9" y1="334.5" x2="717.9" y2="347.5" stroke="#a0a0a0" stroke-width="0.75"/>
<line x1="715.2" y1="340.6" x2="715.2" y2="353.6" stroke="#a0a0a0" stroke-width="0.75"/>
<line x1="716.7" y1="355.7" x2="716.7" y2="368.7" stroke="#a0a0a0" stroke-width="0.75"/>
<line x1="718.5" y1="360.8" x2="718.5" y2="373.8" stroke="#a0a0a0" stroke-width="0.75"/>
<line x1="719.3" y1="362.7" x2="719.3" y2="375.7" stroke="#a0a0a0" stroke-width="0.75"/>
<line x1="720.4" y1="364.2" x2="720.4" y2="377.2" stroke="#a0a0a0" stroke-width="0.75"/>
<line x1="721.1" y1="371.1" x2="721.1" y2="384.1" stroke="#a0a0a0" stroke-width="0.75"/>
<line x1="721.4" y1="375.5" x2="721.4" y2="388.5" stroke="#a0a0a0" stroke-width="0.75"/>
<line x1="722.6" y1="376.2" x2="722.6" y2="389.2" stroke="#a0a0a0" stroke-width="0.75"/>
<line x1="724" y1="375.9" x2="724" y2="388.9" stroke="#a0a0a0" stroke-width="0.75"/>
<line x1="724.8" y1="379.6" x2="724.8" y2="392.6" stroke="#a0a0a0" stroke-width="0.75"/>
<line x1="722.3" y1="381" x2="722.3" y2="394" stroke="#a0a0a0" stroke-width="0.75"/>
<line x1="751.25" y1="366.25" x2="751.25" y2="379.25" stroke="#a0a0a0" stroke-width="0.75"/>
<line x1="754" y1="366.6" x2="754" y2="379.6" stroke="#a0a0a0" stroke-width="0.75"/>
<line x1="749" y1="369.75" x2="749" y2="382.75" stroke="#a0a0a0" stroke-width="0.75"/>
<line x1="752.75" y1="370.4" x2="752.75" y2="383.4" stroke="#a0a0a0" stroke-width="0.75"/>
<line x1="750.25" y1="373.25" x2="750.25" y2="386.25" stroke="#a0a0a0" stroke-width="0.75"/>
<line x1="745.9" y1="377.9" x2="745.9" y2="390.9" stroke="#a0a0a0" stroke-width="0.75"/>
<line x1="747.75" y1="377.5" x2="747.75" y2="390.5" stroke="#a0a0a0" stroke-width="0.75"/>
<line x1="749.25" y1="377.9" x2="749.25" y2="390.9" stroke="#a0a0a0" stroke-width="0.75"/>
<line x1="747.1" y1="380" x2="747.1" y2="393" stroke="#a0a0a0" stroke-width="0.75"/>
<line x1="748.4" y1="379.5" x2="748.4" y2="392.5" stroke="#a0a0a0" stroke-width="0.75"/>
<line x1="744.6" y1="388.1" x2="744.6" y2="401.1" stroke="#a0a0a0" stroke-width="0.75"/>
<circle cx="42" cy="384" r="1.3" fill="#0000ff"/>
<circle cx="76.4" cy="370.1" r="1.3" fill="#0000ff"/>
<circle cx="83.4" cy="361.4" r="1.3" fill="#0000ff"/>
<circle cx="84.7" cy="365.9" r="1.3" fill="#0000ff"/>
<circle cx="104.3" cy="356.4" r="1.3" fill="#0000ff"/>
<circle cx="140" cy="411.9" r="1.3" fill="#0000ff"/>
<circle cx="141" cy="411.9" r="1.3" fill="#0000ff"/>
<circle cx="142.1" cy="400.6" r="1.3" fill="#0000ff"/>
<circle cx="142.9" cy="401.6" r="1.3" fill="#0000ff"/>
<circle cx="143.4" cy="393.8" r="1.3" fill="#0000ff"/>
<circle cx="144.1" cy="389.8" r="1.3" fill="#0000ff"/>
<circle cx="144.8" cy="384.8" r="1.3" fill="#0000ff"/>
<circle cx="145.4" cy="373.8" r="1.3" fill="#0000ff"/>
<circle cx="146.9" cy="388.5" r="1.3" fill="#0000ff"/>
<circle cx="148.1" cy="383.5" r="1.3" fill="#0000ff"/>
<circle cx="149.4" cy="386.9" r="1.3" fill="#0000ff"/>
<circle cx="171.5" cy="380.6" r="1.3" fill="#0000ff"/>
<circle cx="168.75" cy="384.4" r="1.3" fill="#0000ff"/>
<circle cx="169.1" cy="385.6" r="1.3" fill="#0000ff"/>
<circle cx="170" cy="390" r="1.3" fill="#0000ff"/>
<circle cx="171" cy="388.5" r="1.3" fill="#0000ff"/>
<circle cx="171.9" cy="389" r="1.3" fill="#0000ff"/>
<circle cx="173.1" cy="395" r="1.3" fill="#0000ff"/>
<circle cx="173.75" cy="396.9" r="1.3" fill="#0000ff"/>
<circle cx="174.4" cy="398.1" r="1.3" fill="#0000ff"/>
<circle cx="176" cy="400.6" r="1.3" fill="#0000ff"/>
<circle cx="177.5" cy="401.5" r="1.3" fill="#0000ff"/>
<circle cx="196.9" cy="380.6" r="1.3" fill="#0000ff"/>
<circle cx="197.1" cy="371.9" r="1.3" fill="#0000ff"/>
<circle cx="198.1" cy="371.9" r="1.3" fill="#0000ff"/>
<circle cx="199.4" cy="365.9" r="1.3" fill="#0000ff"/>
<circle cx="201" cy="373.75" r="1.3" fill="#0000ff"/>
<circle cx="201.5" cy="363.5" r="1.3" fill="#0000ff"/>
<circle cx="202.5" cy="367.25" r="1.3" fill="#0000ff"/>
<circle cx="203.1" cy="366.5" r="1.3" fill="#0000ff"/>
<circle cx="202.75" cy="369.75" r="1.3" fill="#0000ff"/>
<circle cx="204" cy="355.6" r="1.3" fill="#0000ff"/>
<circle cx="205.25" cy="360" r="1.3" fill="#0000ff"/>
<circle cx="206.6" cy="355.25" r="1.3" fill="#0000ff"/>
<circle cx="225.8" cy="354.4" r="1.3" fill="#0000ff"/>
<circle cx="228.8" cy="360.4" r="1.3" fill="#0000ff"/>
<circle cx="229.9" cy="360.7" r="1.3" fill="#0000ff"/>
<circle cx="233.2" cy="359.7" r="1.3" fill="#0000ff"/>
<circle cx="229.1" cy="365.1" r="1.3" fill="#0000ff"/>
<circle cx="234.2" cy="363.6" r="1.3" fill="#0000ff"/>
<circle cx="227.3" cy="371.7" r="1.3" fill="#0000ff"/>
<circle cx="231" cy="371.4" r="1.3" fill="#0000ff"/>
<circle cx="234.3" cy="370.9" r="1.3" fill="#0000ff"/>
<circle cx="230.5" cy="374.6" r="1.3" fill="#0000ff"/>
<circle cx="235.6" cy="374.6" r="1.3" fill="#0000ff"/>
<circle cx="232.4" cy="379" r="1.3" fill="#0000ff"/>
<circle cx="231.7" cy="388.5" r="1.3" fill="#0000ff"/>
<circle cx="255.25" cy="365.6" r="1.3" fill="#0000ff"/>
<circle cx="256.9" cy="358.1" r="1.3" fill="#0000ff"/>
<circle cx="258.1" cy="361.6" r="1.3" fill="#0000ff"/>
<circle cx="259.75" cy="360.25" r="1.3" fill="#0000ff"/>
<circle cx="261" cy="348.75" r="1.3" fill="#0000ff"/>
<circle cx="261.9" cy="357.1" r="1.3" fill="#0000ff"/>
<circle cx="263.75" cy="357.1" r="1.3" fill="#0000ff"/>
<circle cx="262.5" cy="362.5" r="1.3" fill="#0000ff"/>
<circle cx="265" cy="354.75" r="1.3" fill="#0000ff"/>
<circle cx="266.25" cy="352.75" r="1.3" fill="#0000ff"/>
<circle cx="342.5" cy="387" r="1.3" fill="#0000ff"/>
<circle cx="363.4" cy="384.6" r="1.3" fill="#0000ff"/>
<circle cx="362.1" cy="387.9" r="1.3" fill="#0000ff"/>
<circle cx="363.1" cy="393.1" r="1.3" fill="#0000ff"/>
<circle cx="365.6" cy="396.5" r="1.3" fill="#0000ff"/>
<circle cx="366.6" cy="396.25" r="1.3" fill="#0000ff"/>
<circle cx="364.75" cy="400.6" r="1.3" fill="#0000ff"/>
<circle cx="366.25" cy="401.9" r="1.3" fill="#0000ff"/>
<circle cx="367.5" cy="401.5" r="1.3" fill="#0000ff"/>
<circle cx="367.1" cy="403.5" r="1.3" fill="#0000ff"/>
<circle cx="370.6" cy="404" r="1.3" fill="#0000ff"/>
<circle cx="371.9" cy="404.4" r="1.3" fill="#0000ff"/>
<circle cx="369" cy="410" r="1.3" fill="#0000ff"/>
<circle cx="367.9" cy="412.1" r="1.3" fill="#0000ff"/>
<circle cx="368.5" cy="416" r="1.3" fill="#0000ff"/>
<circle cx="392.5" cy="346" r="1.3" fill="#0000ff"/>
<circle cx="395.6" cy="342.25" r="1.3" fill="#0000ff"/>
<circle cx="396.25" cy="341.9" r="1.3" fill="#0000ff"/>
<circle cx="396.9" cy="342.5" r="1.3" fill="#0000ff"/>
<circle cx="391.25" cy="356.9" r="1.3" fill="#0000ff"/>
<circle cx="393.75" cy="355" r="1.3" fill="#0000ff"/>
<circle cx="397.5" cy="354.6" r="1.3" fill="#0000ff"/>
<circle cx="398.4" cy="365.9" r="1.3" fill="#0000ff"/>
<circle cx="399.4" cy="368.75" r="1.3" fill="#0000ff"/>
<circle cx="400.6" cy="371.25" r="1.3" fill="#0000ff"/>
<circle cx="401.9" cy="373.1" r="1.3" fill="#0000ff"/>
<circle cx="399.75" cy="374.6" r="1.3" fill="#0000ff"/>
<circle cx="428.75" cy="335.4" r="1.3" fill="#0000ff"/>
<circle cx="426" cy="345.6" r="1.3" fill="#0000ff"/>
<circle cx="427.9" cy="346.25" r="1.3" fill="#0000ff"/>
<circle cx="430" cy="349.1" r="1.3" fill="#0000ff"/>
<circle cx="426.9" cy="352.1" r="1.3" fill="#0000ff"/>
<circle cx="427.5" cy="351.6" r="1.3" fill="#0000ff"/>
<circle cx="431.25" cy="351.9" r="1.3" fill="#0000ff"/>
<circle cx="425" cy="356.9" r="1.3" fill="#0000ff"/>
<circle cx="425.6" cy="361.5" r="1.3" fill="#0000ff"/>
<circle cx="424.4" cy="365.9" r="1.3" fill="#0000ff"/>
<circle cx="421.9" cy="373.1" r="1.3" fill="#0000ff"/>
<circle cx="423.1" cy="375" r="1.3" fill="#0000ff"/>
<circle cx="486.3" cy="380.8" r="1.3" fill="#0000ff"/>
<circle cx="506" cy="367.25" r="1.3" fill="#0000ff"/>
<circle cx="507.25" cy="361.6" r="1.3" fill="#0000ff"/>
<circle cx="509" cy="365.25" r="1.3" fill="#0000ff"/>
<circle cx="510.6" cy="366" r="1.3" fill="#0000ff"/>
<circle cx="509.75" cy="360.6" r="1.3" fill="#0000ff"/>
<circle cx="511.9" cy="358.1" r="1.3" fill="#0000ff"/>
<circle cx="512.9" cy="360.4" r="1.3" fill="#0000ff"/>
<circle cx="514.4" cy="347.25" r="1.3" fill="#0000ff"/>
<circle cx="515.6" cy="347.5" r="1.3" fill="#0000ff"/>
<circle cx="516.9" cy="348.1" r="1.3" fill="#0000ff"/>
<circle cx="537.75" cy="355.6" r="1.3" fill="#0000ff"/>
<circle cx="536.5" cy="365.9" r="1.3" fill="#0000ff"/>
<circle cx="540.25" cy="362.25" r="1.3" fill="#0000ff"/>
<circle cx="541.5" cy="362.9" r="1.3" fill="#0000ff"/>
<circle cx="542.9" cy="363.1" r="1.3" fill="#0000ff"/>
<circle cx="543.75" cy="363.1" r="1.3" fill="#0000ff"/>
<circle cx="544.75" cy="366.25" r="1.3" fill="#0000ff"/>
<circle cx="541" cy="369" r="1.3" fill="#0000ff"/>
<circle cx="541.9" cy="368.1" r="1.3" fill="#0000ff"/>
<circle cx="542.75" cy="370.6" r="1.3" fill="#0000ff"/>
<circle cx="539" cy="371.9" r="1.3" fill="#0000ff"/>
<circle cx="539" cy="375" r="1.3" fill="#0000ff"/>
<circle cx="542.1" cy="374.6" r="1.3" fill="#0000ff"/>
<circle cx="546" cy="377.1" r="1.3" fill="#0000ff"/>
<circle cx="565.8" cy="356.2" r="1.3" fill="#0000ff"/>
<circle cx="567" cy="358.3" r="1.3" fill="#0000ff"/>
<circle cx="568.3" cy="372" r="1.3" fill="#0000ff"/>
<circle cx="569.2" cy="378" r="1.3" fill="#0000ff"/>
<circle cx="569.7" cy="379.2" r="1.3" fill="#0000ff"/>
<circle cx="570.3" cy="383.7" r="1.3" fill="#0000ff"/>
<circle cx="570.8" cy="398" r="1.3" fill="#0000ff"/>
<circle cx="572.2" cy="398.3" r="1.3" fill="#0000ff"/>
<circle cx="569.7" cy="403.3" r="1.3" fill="#0000ff"/>
<circle cx="571.3" cy="404.2" r="1.3" fill="#0000ff"/>
<circle cx="573" cy="405" r="1.3" fill="#0000ff"/>
<circle cx="574.2" cy="403.3" r="1.3" fill="#0000ff"/>
<circle cx="576.3" cy="400.8" r="1.3" fill="#0000ff"/>
<circle cx="574.2" cy="415" r="1.3" fill="#0000ff"/>
<circle cx="637.3" cy="379.7" r="1.3" fill="#0000ff"/>
<circle cx="661.3" cy="383.1" r="1.3" fill="#0000ff"/>
<circle cx="661" cy="385.2" r="1.3" fill="#0000ff"/>
<circle cx="662.7" cy="385.9" r="1.3" fill="#0000ff"/>
<circle cx="663.9" cy="389.3" r="1.3" fill="#0000ff"/>
<circle cx="659.9" cy="391.6" r="1.3" fill="#0000ff"/>
<circle cx="662" cy="391.9" r="1.3" fill="#0000ff"/>
<circle cx="658.2" cy="395.1" r="1.3" fill="#0000ff"/>
<circle cx="659.4" cy="395.8" r="1.3" fill="#0000ff"/>
<circle cx="657.1" cy="397.7" r="1.3" fill="#0000ff"/>
<circle cx="665.5" cy="400.3" r="1.3" fill="#0000ff"/>
<circle cx="666.4" cy="404.8" r="1.3" fill="#0000ff"/>
<circle cx="663.3" cy="406" r="1.3" fill="#0000ff"/>
<circle cx="686" cy="404.1" r="1.3" fill="#0000ff"/>
<circle cx="687.25" cy="412.5" r="1.3" fill="#0000ff"/>
<circle cx="688.5" cy="415.4" r="1.3" fill="#0000ff"/>
<circle cx="689.75" cy="417.75" r="1.3" fill="#0000ff"/>
<circle cx="689.4" cy="420.6" r="1.3" fill="#0000ff"/>
<circle cx="690.6" cy="423.75" r="1.3" fill="#0000ff"/>
<circle cx="691.9" cy="424" r="1.3" fill="#0000ff"/>
<circle cx="695.6" cy="418.75" r="1.3" fill="#0000ff"/>
<circle cx="695.6" cy="427.5" r="1.3" fill="#0000ff"/>
<circle cx="693.1" cy="429" r="1.3" fill="#0000ff"/>
<circle cx="694.4" cy="433.5" r="1.3" fill="#0000ff"/>
<circle cx="691.9" cy="443.5" r="1.3" fill="#0000ff"/>
<circle cx="717.9" cy="341" r="1.3" fill="#0000ff"/>
<circle cx="715.2" cy="347.1" r="1.3" fill="#0000ff"/>
<circle cx="716.7" cy="362.2" r="1.3" fill="#0000ff"/>
<circle cx="718.5" cy="367.3" r="1.3" fill="#0000ff"/>
<circle cx="719.3" cy="369.2" r="1.3" fill="#0000ff"/>
<circle cx="720.4" cy="370.7" r="1.3" fill="#0000ff"/>
<circle cx="721.1" cy="377.6" r="1.3" fill="#0000ff"/>
<circle cx="721.4" cy="382" r="1.3" fill="#0000ff"/>
<circle cx="722.6" cy="382.7" r="1.3" fill="#0000ff"/>
<circle cx="724" cy="382.4" r="1.3" fill="#0000ff"/>
<circle cx="724.8" cy="386.1" r="1.3" fill="#0000ff"/>
<circle cx="722.3" cy="387.5" r="1.3" fill="#0000ff"/>
<circle cx="751.25" cy="372.75" r="1.3" fill="#0000ff"/>
<circle cx="754" cy="373.1" r="1.3" fill="#0000ff"/>
<circle cx="749" cy="376.25" r="1.3" fill="#0000ff"/>
<circle cx="752.75" cy="376.9" r="1.3" fill="#0000ff"/>
<circle cx="750.25" cy="379.75" r="1.3" fill="#0000ff"/>
<circle cx="745.9" cy="384.4" r="1.3" fill="#0000ff"/>
<circle cx="747.75" cy="384" r="1.3" fill="#0000ff"/>
<circle cx="749.25" cy="384.4" r="1.3" fill="#0000ff"/>
<circle cx="747.1" cy="386.5" r="1.3" fill="#0000ff"/>
<circle cx="748.4" cy="386" r="1.3" fill="#0000ff"/>
<circle cx="744.6" cy="394.6" r="1.3" fill="#0000ff"/>
<rect x="37.3" y="322.4" width="721.5" height="134.1" fill="none" stroke="#a4a4a4" stroke-width="1.2"/>
<line x1="41.9" y1="456.5" x2="41.9" y2="459.3" stroke="#6a6a6a" stroke-width="0.8"/>
<text x="41.9" y="468" font-size="9.6" text-anchor="middle" fill="#111" stroke="#111" stroke-width="0.2" textLength="5.3" lengthAdjust="spacingAndGlyphs">0</text>
<line x1="51.7" y1="456.5" x2="51.7" y2="458.7" stroke="#7a7a7a" stroke-width="0.7"/>
<line x1="61.5" y1="456.5" x2="61.5" y2="458.7" stroke="#7a7a7a" stroke-width="0.7"/>
<line x1="71.3" y1="456.5" x2="71.3" y2="458.7" stroke="#7a7a7a" stroke-width="0.7"/>
<line x1="81.1" y1="456.5" x2="81.1" y2="458.7" stroke="#7a7a7a" stroke-width="0.7"/>
<line x1="90.9" y1="456.5" x2="90.9" y2="459.3" stroke="#6a6a6a" stroke-width="0.8"/>
<text x="90.9" y="468" font-size="9.6" text-anchor="middle" fill="#111" stroke="#111" stroke-width="0.2" textLength="5.3" lengthAdjust="spacingAndGlyphs">5</text>
<line x1="100.7" y1="456.5" x2="100.7" y2="458.7" stroke="#7a7a7a" stroke-width="0.7"/>
<line x1="110.5" y1="456.5" x2="110.5" y2="458.7" stroke="#7a7a7a" stroke-width="0.7"/>
<line x1="120.3" y1="456.5" x2="120.3" y2="458.7" stroke="#7a7a7a" stroke-width="0.7"/>
<line x1="130.1" y1="456.5" x2="130.1" y2="458.7" stroke="#7a7a7a" stroke-width="0.7"/>
<line x1="139.9" y1="456.5" x2="139.9" y2="459.3" stroke="#6a6a6a" stroke-width="0.8"/>
<text x="139.9" y="468" font-size="9.6" text-anchor="middle" fill="#111" stroke="#111" stroke-width="0.2" textLength="10.2" lengthAdjust="spacingAndGlyphs">10</text>
<line x1="149.7" y1="456.5" x2="149.7" y2="458.7" stroke="#7a7a7a" stroke-width="0.7"/>
<line x1="159.5" y1="456.5" x2="159.5" y2="458.7" stroke="#7a7a7a" stroke-width="0.7"/>
<line x1="169.3" y1="456.5" x2="169.3" y2="458.7" stroke="#7a7a7a" stroke-width="0.7"/>
<line x1="179.1" y1="456.5" x2="179.1" y2="458.7" stroke="#7a7a7a" stroke-width="0.7"/>
<line x1="188.9" y1="456.5" x2="188.9" y2="459.3" stroke="#6a6a6a" stroke-width="0.8"/>
<text x="188.9" y="468" font-size="9.6" text-anchor="middle" fill="#111" stroke="#111" stroke-width="0.2" textLength="10.2" lengthAdjust="spacingAndGlyphs">15</text>
<line x1="198.7" y1="456.5" x2="198.7" y2="458.7" stroke="#7a7a7a" stroke-width="0.7"/>
<line x1="208.5" y1="456.5" x2="208.5" y2="458.7" stroke="#7a7a7a" stroke-width="0.7"/>
<line x1="218.3" y1="456.5" x2="218.3" y2="458.7" stroke="#7a7a7a" stroke-width="0.7"/>
<line x1="228.1" y1="456.5" x2="228.1" y2="458.7" stroke="#7a7a7a" stroke-width="0.7"/>
<line x1="237.9" y1="456.5" x2="237.9" y2="459.3" stroke="#6a6a6a" stroke-width="0.8"/>
<text x="237.9" y="468" font-size="9.6" text-anchor="middle" fill="#111" stroke="#111" stroke-width="0.2" textLength="10.2" lengthAdjust="spacingAndGlyphs">20</text>
<line x1="247.7" y1="456.5" x2="247.7" y2="458.7" stroke="#7a7a7a" stroke-width="0.7"/>
<line x1="257.5" y1="456.5" x2="257.5" y2="458.7" stroke="#7a7a7a" stroke-width="0.7"/>
<line x1="267.3" y1="456.5" x2="267.3" y2="458.7" stroke="#7a7a7a" stroke-width="0.7"/>
<line x1="277.1" y1="456.5" x2="277.1" y2="458.7" stroke="#7a7a7a" stroke-width="0.7"/>
<line x1="286.9" y1="456.5" x2="286.9" y2="459.3" stroke="#6a6a6a" stroke-width="0.8"/>
<text x="286.9" y="468" font-size="9.6" text-anchor="middle" fill="#111" stroke="#111" stroke-width="0.2" textLength="10.2" lengthAdjust="spacingAndGlyphs">25</text>
<line x1="296.7" y1="456.5" x2="296.7" y2="458.7" stroke="#7a7a7a" stroke-width="0.7"/>
<line x1="306.5" y1="456.5" x2="306.5" y2="458.7" stroke="#7a7a7a" stroke-width="0.7"/>
<line x1="316.3" y1="456.5" x2="316.3" y2="458.7" stroke="#7a7a7a" stroke-width="0.7"/>
<line x1="326.1" y1="456.5" x2="326.1" y2="458.7" stroke="#7a7a7a" stroke-width="0.7"/>
<line x1="335.9" y1="456.5" x2="335.9" y2="459.3" stroke="#6a6a6a" stroke-width="0.8"/>
<text x="335.9" y="468" font-size="9.6" text-anchor="middle" fill="#111" stroke="#111" stroke-width="0.2" textLength="10.2" lengthAdjust="spacingAndGlyphs">30</text>
<line x1="345.7" y1="456.5" x2="345.7" y2="458.7" stroke="#7a7a7a" stroke-width="0.7"/>
<line x1="355.5" y1="456.5" x2="355.5" y2="458.7" stroke="#7a7a7a" stroke-width="0.7"/>
<line x1="365.3" y1="456.5" x2="365.3" y2="458.7" stroke="#7a7a7a" stroke-width="0.7"/>
<line x1="375.1" y1="456.5" x2="375.1" y2="458.7" stroke="#7a7a7a" stroke-width="0.7"/>
<line x1="384.9" y1="456.5" x2="384.9" y2="459.3" stroke="#6a6a6a" stroke-width="0.8"/>
<text x="384.9" y="468" font-size="9.6" text-anchor="middle" fill="#111" stroke="#111" stroke-width="0.2" textLength="10.2" lengthAdjust="spacingAndGlyphs">35</text>
<line x1="394.7" y1="456.5" x2="394.7" y2="458.7" stroke="#7a7a7a" stroke-width="0.7"/>
<line x1="404.5" y1="456.5" x2="404.5" y2="458.7" stroke="#7a7a7a" stroke-width="0.7"/>
<line x1="414.3" y1="456.5" x2="414.3" y2="458.7" stroke="#7a7a7a" stroke-width="0.7"/>
<line x1="424.1" y1="456.5" x2="424.1" y2="458.7" stroke="#7a7a7a" stroke-width="0.7"/>
<line x1="433.9" y1="456.5" x2="433.9" y2="459.3" stroke="#6a6a6a" stroke-width="0.8"/>
<text x="433.9" y="468" font-size="9.6" text-anchor="middle" fill="#111" stroke="#111" stroke-width="0.2" textLength="10.2" lengthAdjust="spacingAndGlyphs">40</text>
<line x1="443.7" y1="456.5" x2="443.7" y2="458.7" stroke="#7a7a7a" stroke-width="0.7"/>
<line x1="453.5" y1="456.5" x2="453.5" y2="458.7" stroke="#7a7a7a" stroke-width="0.7"/>
<line x1="463.3" y1="456.5" x2="463.3" y2="458.7" stroke="#7a7a7a" stroke-width="0.7"/>
<line x1="473.1" y1="456.5" x2="473.1" y2="458.7" stroke="#7a7a7a" stroke-width="0.7"/>
<line x1="482.9" y1="456.5" x2="482.9" y2="459.3" stroke="#6a6a6a" stroke-width="0.8"/>
<text x="482.9" y="468" font-size="9.6" text-anchor="middle" fill="#111" stroke="#111" stroke-width="0.2" textLength="10.2" lengthAdjust="spacingAndGlyphs">45</text>
<line x1="492.7" y1="456.5" x2="492.7" y2="458.7" stroke="#7a7a7a" stroke-width="0.7"/>
<line x1="502.5" y1="456.5" x2="502.5" y2="458.7" stroke="#7a7a7a" stroke-width="0.7"/>
<line x1="512.3" y1="456.5" x2="512.3" y2="458.7" stroke="#7a7a7a" stroke-width="0.7"/>
<line x1="522.1" y1="456.5" x2="522.1" y2="458.7" stroke="#7a7a7a" stroke-width="0.7"/>
<line x1="531.9" y1="456.5" x2="531.9" y2="459.3" stroke="#6a6a6a" stroke-width="0.8"/>
<text x="531.9" y="468" font-size="9.6" text-anchor="middle" fill="#111" stroke="#111" stroke-width="0.2" textLength="10.2" lengthAdjust="spacingAndGlyphs">50</text>
<line x1="541.7" y1="456.5" x2="541.7" y2="458.7" stroke="#7a7a7a" stroke-width="0.7"/>
<line x1="551.5" y1="456.5" x2="551.5" y2="458.7" stroke="#7a7a7a" stroke-width="0.7"/>
<line x1="561.3" y1="456.5" x2="561.3" y2="458.7" stroke="#7a7a7a" stroke-width="0.7"/>
<line x1="571.1" y1="456.5" x2="571.1" y2="458.7" stroke="#7a7a7a" stroke-width="0.7"/>
<line x1="580.9" y1="456.5" x2="580.9" y2="459.3" stroke="#6a6a6a" stroke-width="0.8"/>
<text x="580.9" y="468" font-size="9.6" text-anchor="middle" fill="#111" stroke="#111" stroke-width="0.2" textLength="10.2" lengthAdjust="spacingAndGlyphs">55</text>
<line x1="590.7" y1="456.5" x2="590.7" y2="458.7" stroke="#7a7a7a" stroke-width="0.7"/>
<line x1="600.5" y1="456.5" x2="600.5" y2="458.7" stroke="#7a7a7a" stroke-width="0.7"/>
<line x1="610.3" y1="456.5" x2="610.3" y2="458.7" stroke="#7a7a7a" stroke-width="0.7"/>
<line x1="620.1" y1="456.5" x2="620.1" y2="458.7" stroke="#7a7a7a" stroke-width="0.7"/>
<line x1="629.9" y1="456.5" x2="629.9" y2="459.3" stroke="#6a6a6a" stroke-width="0.8"/>
<text x="629.9" y="468" font-size="9.6" text-anchor="middle" fill="#111" stroke="#111" stroke-width="0.2" textLength="10.2" lengthAdjust="spacingAndGlyphs">60</text>
<line x1="639.7" y1="456.5" x2="639.7" y2="458.7" stroke="#7a7a7a" stroke-width="0.7"/>
<line x1="649.5" y1="456.5" x2="649.5" y2="458.7" stroke="#7a7a7a" stroke-width="0.7"/>
<line x1="659.3" y1="456.5" x2="659.3" y2="458.7" stroke="#7a7a7a" stroke-width="0.7"/>
<line x1="669.1" y1="456.5" x2="669.1" y2="458.7" stroke="#7a7a7a" stroke-width="0.7"/>
<line x1="678.9" y1="456.5" x2="678.9" y2="459.3" stroke="#6a6a6a" stroke-width="0.8"/>
<text x="678.9" y="468" font-size="9.6" text-anchor="middle" fill="#111" stroke="#111" stroke-width="0.2" textLength="10.2" lengthAdjust="spacingAndGlyphs">65</text>
<line x1="688.7" y1="456.5" x2="688.7" y2="458.7" stroke="#7a7a7a" stroke-width="0.7"/>
<line x1="698.5" y1="456.5" x2="698.5" y2="458.7" stroke="#7a7a7a" stroke-width="0.7"/>
<line x1="708.3" y1="456.5" x2="708.3" y2="458.7" stroke="#7a7a7a" stroke-width="0.7"/>
<line x1="718.1" y1="456.5" x2="718.1" y2="458.7" stroke="#7a7a7a" stroke-width="0.7"/>
<line x1="727.9" y1="456.5" x2="727.9" y2="459.3" stroke="#6a6a6a" stroke-width="0.8"/>
<text x="727.9" y="468" font-size="9.6" text-anchor="middle" fill="#111" stroke="#111" stroke-width="0.2" textLength="10.2" lengthAdjust="spacingAndGlyphs">70</text>
<line x1="737.7" y1="456.5" x2="737.7" y2="458.7" stroke="#7a7a7a" stroke-width="0.7"/>
<line x1="747.5" y1="456.5" x2="747.5" y2="458.7" stroke="#7a7a7a" stroke-width="0.7"/>
<line x1="757.3" y1="456.5" x2="757.3" y2="458.7" stroke="#7a7a7a" stroke-width="0.7"/>
<line x1="35.3" y1="340.4" x2="37.3" y2="340.4" stroke="#a4a4a4" stroke-width="0.8"/>
<text x="33.6" y="344.3" font-size="10" text-anchor="end" fill="#111" stroke="#111" stroke-width="0.2" textLength="14" lengthAdjust="spacingAndGlyphs">9.6</text>
<line x1="35.3" y1="370.83" x2="37.3" y2="370.83" stroke="#a4a4a4" stroke-width="0.8"/>
<text x="33.6" y="374.73" font-size="10" text-anchor="end" fill="#111" stroke="#111" stroke-width="0.2" textLength="14" lengthAdjust="spacingAndGlyphs">9.7</text>
<line x1="35.3" y1="401.26" x2="37.3" y2="401.26" stroke="#a4a4a4" stroke-width="0.8"/>
<text x="33.6" y="405.16" font-size="10" text-anchor="end" fill="#111" stroke="#111" stroke-width="0.2" textLength="14" lengthAdjust="spacingAndGlyphs">9.8</text>
<line x1="35.3" y1="431.69" x2="37.3" y2="431.69" stroke="#a4a4a4" stroke-width="0.8"/>
<text x="33.6" y="435.59" font-size="10" text-anchor="end" fill="#111" stroke="#111" stroke-width="0.2" textLength="14" lengthAdjust="spacingAndGlyphs">9.9</text>
<text transform="translate(16.2,389.4) rotate(-90)" font-size="10.6" text-anchor="middle" fill="#111" stroke="#111" stroke-width="0.2" textLength="63.8" lengthAdjust="spacingAndGlyphs">W2 Magnitude</text>
<text x="398.1" y="476.6" font-size="9.5" text-anchor="middle" fill="#111" stroke="#111" stroke-width="0.2" textLength="15.7" lengthAdjust="spacingAndGlyphs">day</text>
<text x="48.7" y="334" font-size="12" fill="#111" stroke="#111" stroke-width="0.2" textLength="15.8" lengthAdjust="spacingAndGlyphs">(d)</text>
<text x="94.5" y="327" font-size="7.2" text-anchor="middle" fill="#000" stroke="#000" stroke-width="0.12" textLength="14.6" lengthAdjust="spacingAndGlyphs">186d</text>
<text x="77.1" y="455.8" font-size="6.8" fill="#858585" stroke="#858585" stroke-width="0.1" textLength="18.6" lengthAdjust="spacingAndGlyphs">56728</text>
<text x="159.25" y="327" font-size="7.2" text-anchor="middle" fill="#000" stroke="#000" stroke-width="0.12" textLength="14.6" lengthAdjust="spacingAndGlyphs">166d</text>
<text x="141.2" y="455.8" font-size="6.8" fill="#858585" stroke="#858585" stroke-width="0.1" textLength="18.6" lengthAdjust="spacingAndGlyphs">56919</text>
<text x="187" y="327" font-size="7.2" text-anchor="middle" fill="#000" stroke="#000" stroke-width="0.12" textLength="14.6" lengthAdjust="spacingAndGlyphs">193d</text>
<text x="170.1" y="455.8" font-size="6.8" fill="#858585" stroke="#858585" stroke-width="0.1" textLength="18.6" lengthAdjust="spacingAndGlyphs">57087</text>
<text x="216.45" y="327" font-size="7.2" text-anchor="middle" fill="#000" stroke="#000" stroke-width="0.12" textLength="14.6" lengthAdjust="spacingAndGlyphs">163d</text>
<text x="199.1" y="455.8" font-size="6.8" fill="#858585" stroke="#858585" stroke-width="0.1" textLength="18.6" lengthAdjust="spacingAndGlyphs">57282</text>
<text x="245.6" y="327" font-size="7.2" text-anchor="middle" fill="#000" stroke="#000" stroke-width="0.12" textLength="14.6" lengthAdjust="spacingAndGlyphs">198d</text>
<text x="228.6" y="455.8" font-size="6.8" fill="#858585" stroke="#858585" stroke-width="0.1" textLength="18.6" lengthAdjust="spacingAndGlyphs">57447</text>
<text x="352.5" y="327" font-size="7.2" text-anchor="middle" fill="#000" stroke="#000" stroke-width="0.12" textLength="14.6" lengthAdjust="spacingAndGlyphs">156d</text>
<text x="335.3" y="455.8" font-size="6.8" fill="#858585" stroke="#858585" stroke-width="0.1" textLength="18.6" lengthAdjust="spacingAndGlyphs">57647</text>
<text x="381.65" y="327" font-size="7.2" text-anchor="middle" fill="#000" stroke="#000" stroke-width="0.12" textLength="14.6" lengthAdjust="spacingAndGlyphs">201d</text>
<text x="364.5" y="455.8" font-size="6.8" fill="#858585" stroke="#858585" stroke-width="0.1" textLength="18.6" lengthAdjust="spacingAndGlyphs">57811</text>
<text x="412.2" y="327" font-size="7.2" text-anchor="middle" fill="#000" stroke="#000" stroke-width="0.12" textLength="14.6" lengthAdjust="spacingAndGlyphs">153d</text>
<text x="394.8" y="455.8" font-size="6.8" fill="#858585" stroke="#858585" stroke-width="0.1" textLength="18.6" lengthAdjust="spacingAndGlyphs">58013</text>
<text x="496.4" y="327" font-size="7.2" text-anchor="middle" fill="#000" stroke="#000" stroke-width="0.12" textLength="14.6" lengthAdjust="spacingAndGlyphs">202d</text>
<text x="479.2" y="455.8" font-size="6.8" fill="#858585" stroke="#858585" stroke-width="0.1" textLength="18.6" lengthAdjust="spacingAndGlyphs">58168</text>
<text x="526.75" y="327" font-size="7.2" text-anchor="middle" fill="#000" stroke="#000" stroke-width="0.12" textLength="14.6" lengthAdjust="spacingAndGlyphs">156d</text>
<text x="509.5" y="455.8" font-size="6.8" fill="#858585" stroke="#858585" stroke-width="0.1" textLength="18.6" lengthAdjust="spacingAndGlyphs">58377</text>
<text x="556.35" y="327" font-size="7.2" text-anchor="middle" fill="#000" stroke="#000" stroke-width="0.12" textLength="14.6" lengthAdjust="spacingAndGlyphs">205d</text>
<text x="538.8" y="455.8" font-size="6.8" fill="#858585" stroke="#858585" stroke-width="0.1" textLength="18.6" lengthAdjust="spacingAndGlyphs">58535</text>
<text x="647.4" y="327" font-size="7.2" text-anchor="middle" fill="#000" stroke="#000" stroke-width="0.12" textLength="14.6" lengthAdjust="spacingAndGlyphs">150d</text>
<text x="629.9" y="455.8" font-size="6.8" fill="#858585" stroke="#858585" stroke-width="0.1" textLength="18.6" lengthAdjust="spacingAndGlyphs">58742</text>
<text x="676.45" y="327" font-size="7.2" text-anchor="middle" fill="#000" stroke="#000" stroke-width="0.12" textLength="14.6" lengthAdjust="spacingAndGlyphs">208d</text>
<text x="659.5" y="455.8" font-size="6.8" fill="#858585" stroke="#858585" stroke-width="0.1" textLength="18.6" lengthAdjust="spacingAndGlyphs">58899</text>
<text x="705.35" y="327" font-size="7.2" text-anchor="middle" fill="#000" stroke="#000" stroke-width="0.12" textLength="14.6" lengthAdjust="spacingAndGlyphs">153d</text>
<text x="688.8" y="455.8" font-size="6.8" fill="#858585" stroke="#858585" stroke-width="0.1" textLength="18.6" lengthAdjust="spacingAndGlyphs">59108</text>
<text x="734.5" y="327" font-size="7.2" text-anchor="middle" fill="#000" stroke="#000" stroke-width="0.12" textLength="14.6" lengthAdjust="spacingAndGlyphs">208d</text>
<text x="718" y="455.8" font-size="6.8" fill="#858585" stroke="#858585" stroke-width="0.1" textLength="18.6" lengthAdjust="spacingAndGlyphs">59263</text>
<text x="8" y="326.9" font-size="6.8" fill="#a0a0a0" stroke="#a0a0a0" stroke-width="0.1" textLength="36.6" lengthAdjust="spacingAndGlyphs">interval time</text>
<text x="20.8" y="455" font-size="6.8" fill="#a0a0a0" stroke="#a0a0a0" stroke-width="0.1" textLength="11.2" lengthAdjust="spacingAndGlyphs">mjd</text>
</svg></body></html>
